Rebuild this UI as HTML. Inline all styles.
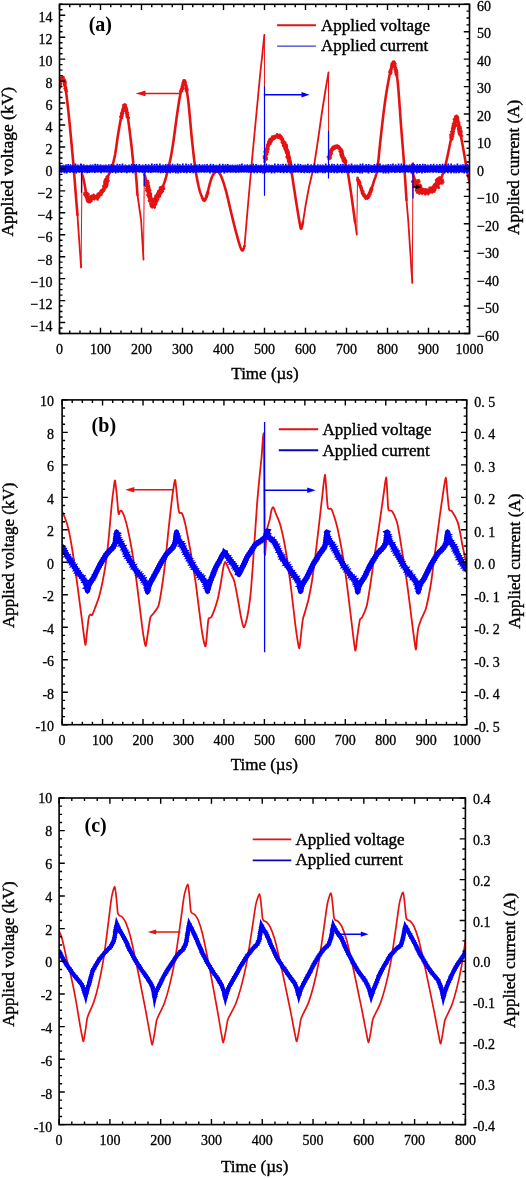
<!DOCTYPE html>
<html><head><meta charset="utf-8"><style>
html,body{margin:0;padding:0;background:#fff;}
svg{display:block;will-change:transform;}
</style></head><body>
<svg width="526" height="1179" viewBox="0 0 526 1179">
<rect width="526" height="1179" fill="#fff"/>
<defs><clipPath id="ca"><rect x="59.5" y="4.3" width="410.0" height="329.2"/></clipPath><clipPath id="cb"><rect x="62.1" y="399.9" width="404.6" height="324.8"/></clipPath><clipPath id="cc"><rect x="59.1" y="798.0" width="406.3" height="326.6"/></clipPath></defs><g clip-path="url(#ca)"><path d="M59.90 87.56L58.95 86.98L60.47 86.60L58.94 85.70L60.63 85.14L59.34 84.13L60.91 83.50L59.52 82.45L60.67 81.85L59.85 80.95L60.92 80.59L60.02 79.17L62.16 78.97L61.20 77.56L62.41 77.69L62.25 76.28L62.56 77.55L63.56 77.41L63.17 78.67L64.52 79.85L63.39 80.63L65.18 80.72L63.90 81.54L65.40 81.78L63.90 82.68L65.60 82.96L63.95 83.93L65.34 84.37L64.31 85.27L65.56 85.83L65.01 86.74L66.01 87.44L64.74 88.54L66.40 89.26L65.42 90.41L66.88 91.28L66.07 91.93L66.15 92.48L66.22 93.05L66.30 93.63L66.37 94.23L66.45 94.84L66.53 95.47L66.61 96.11L66.69 96.76L66.77 97.42L66.85 98.10L66.93 98.79L67.02 99.48L67.10 100.19L67.19 100.91L67.27 101.63L67.35 102.36L67.44 103.10L67.53 103.84L67.61 104.59L67.70 105.34L67.78 106.10L67.87 106.86L67.95 107.62L68.04 108.39L68.12 109.16L68.21 109.92L68.29 110.69L68.37 111.46L68.46 112.22L68.54 112.98L68.62 113.74L68.70 114.50L68.77 115.16L68.84 115.82L68.91 116.49L68.98 117.16L69.05 117.83L69.12 118.51L69.19 119.20L69.26 119.88L69.33 120.58L69.40 121.27L69.47 121.97L69.54 122.67L69.60 123.37L69.67 124.07L69.74 124.78L69.81 125.49L69.88 126.20L69.95 126.91L70.02 127.62L70.09 128.34L70.16 129.06L70.22 129.77L70.29 130.49L70.36 131.21L70.43 131.93L70.50 132.65L70.56 133.36L70.63 134.08L70.70 134.80L70.77 135.52L70.83 136.23L70.90 136.95L70.97 137.66L71.04 138.37L71.10 139.08L71.17 139.79L71.23 140.50L71.30 141.20L71.37 141.90L71.43 142.61L71.50 143.31L71.56 144.01L71.63 144.71L71.69 145.42L71.76 146.12L71.82 146.82L71.89 147.52L71.95 148.23L72.02 148.93L72.08 149.63L72.15 150.33L72.21 151.04L72.28 151.74L72.34 152.44L72.40 153.14L72.47 153.85L72.53 154.55L72.59 155.25L72.66 155.96L72.72 156.66L72.78 157.36L72.85 158.06L72.91 158.77L72.97 159.47L73.03 160.17L73.09 160.87L73.16 161.58L73.22 162.28L73.28 162.98L73.34 163.68L73.40 164.39L73.46 165.09L73.52 165.79L73.58 166.49L73.64 167.20L73.70 167.90L73.76 168.60L73.82 169.31L73.88 170.03L73.94 170.74L73.99 171.46L74.05 172.18L74.11 172.91L74.17 173.63L74.23 174.36L74.28 175.09L74.34 175.82L74.40 176.55L74.46 177.28L74.51 178.01L74.57 178.74L74.63 179.47L74.68 180.19L74.74 180.92L74.79 181.64L74.85 182.37L74.90 183.09L74.96 183.80L75.01 184.52L75.07 185.23L75.12 185.93L75.18 186.63L75.23 187.33L75.28 188.02L75.34 188.71L75.39 189.39L75.44 190.07L75.49 190.74L75.55 191.40L75.60 192.05L75.65 192.70L75.70 193.34L75.75 193.98L75.80 194.60L75.87 195.42L75.93 196.24L76.00 197.07L76.07 197.90L76.14 198.74L76.21 199.58L76.28 200.41L76.34 201.25L76.41 202.07L76.48 202.90L76.55 203.71L76.62 204.51L76.68 205.31L76.75 206.08L76.81 206.85L76.88 207.60L76.94 208.33L77.00 209.03L77.06 209.72L77.11 210.38L77.17 211.02L77.22 211.63L77.27 212.21L77.31 212.76L77.36 213.28L77.40 213.77L77.43 214.22L77.47 214.63L77.50 215.00" stroke="#e61212" stroke-width="2.6" fill="none" stroke-linejoin="round" stroke-linecap="round"/>
<path d="M82.00 174.00L82.12 174.38L82.26 174.82L82.43 175.34L82.63 175.93L82.84 176.61L83.07 177.37L83.30 178.24L83.55 179.21L83.80 180.30L83.91 180.84L84.03 181.44L84.16 182.08L84.28 182.76L84.41 183.48L84.55 184.23L84.68 185.00L84.82 185.79L84.96 186.59L85.10 187.40L85.24 188.21L85.38 189.01L85.53 189.81L85.67 190.59L85.81 191.34L85.95 192.07L84.57 193.08L87.17 193.22L84.27 194.52L88.52 194.11L85.42 195.99L88.64 196.28L86.30 197.91L88.46 198.30L86.69 199.73L89.61 199.52L87.36 201.17L90.30 200.00L88.31 202.13L89.17 200.74L89.94 202.22L88.32 200.09L91.32 201.04L89.39 199.03L92.12 199.19L90.01 197.08L93.01 197.63L91.54 195.75L93.14 197.25L93.76 194.92L93.50 197.10L96.08 195.83L94.45 199.24L95.99 196.32L97.58 199.51L96.14 196.46L98.47 197.61L96.98 195.38L99.49 196.38L97.79 193.82L99.94 195.03L99.10 193.07L101.48 194.79L100.14 192.38L102.02 193.12L100.59 190.98L102.91 191.85L101.42 190.11L103.84 190.79L102.82 189.35L104.64 189.48L103.49 187.99L105.34 187.97L103.29 186.15L106.86 186.64L104.27 185.00L107.22 185.24L104.51 183.65L107.43 183.71L104.32 182.05L107.56 182.11L104.73 180.55L108.52 180.74L105.39 179.13L107.88 179.04L106.67 177.97L108.29 177.78L106.67 176.61L108.14 176.08L108.46 175.28L108.78 174.58L109.09 173.93L109.40 173.31L109.70 172.68L110.00 172.00L110.29 171.35L110.56 170.78L110.82 170.22L111.08 169.63L111.36 168.94L111.66 168.08L112.00 167.00L112.15 166.49L112.31 165.96L112.47 165.40L112.64 164.83L112.81 164.23L112.98 163.60L113.16 162.96L113.35 162.28L113.53 161.58L113.71 160.86L113.90 160.11L114.09 159.33L114.27 158.52L114.46 157.69L114.64 156.82L114.82 155.93L115.00 155.00L115.11 154.42L115.21 153.81L115.32 153.18L115.43 152.54L115.54 151.87L115.64 151.19L115.75 150.49L115.86 149.78L115.96 149.06L116.07 148.32L116.18 147.58L116.29 146.83L116.39 146.07L116.50 145.31L116.61 144.55L116.71 143.78L116.82 143.01L116.93 142.25L117.04 141.49L117.14 140.73L117.25 139.98L117.36 139.23L117.46 138.50L117.57 137.77L117.68 137.06L117.79 136.36L117.89 135.67L118.00 135.00L118.13 134.23L118.25 133.45L118.38 132.66L118.51 131.88L118.65 131.09L118.78 130.30L118.91 129.52L119.04 128.74L119.18 127.97L119.31 127.20L119.44 126.44L119.58 125.69L119.71 124.95L119.84 124.22L119.96 123.51L120.09 122.81L120.21 122.14L120.33 121.48L120.45 120.84L120.57 120.22L120.68 119.63L120.79 119.06L120.90 118.51L121.94 118.19L120.34 116.70L122.30 116.14L121.26 115.05L122.57 114.64L121.16 113.60L122.97 113.51L121.48 112.48L122.84 112.30L122.22 111.51L123.63 111.22L122.20 110.02L124.10 109.53L122.80 108.28L124.49 107.71L123.41 106.56L124.92 106.20L123.34 104.98L124.82 105.27L124.58 104.45L124.30 105.38L125.72 104.91L124.71 105.95L125.76 106.35L125.16 107.36L126.71 107.92L125.71 109.14L127.22 109.82L126.04 111.10L127.06 111.47L126.38 112.21L127.84 112.47L126.09 113.44L127.63 113.72L126.89 114.50L128.11 114.92L126.59 115.89L127.93 116.38L127.02 117.32L128.78 117.86L128.03 118.89L128.18 119.85L128.34 120.88L128.50 122.00L128.57 122.53L128.65 123.08L128.73 123.66L128.81 124.26L128.90 124.89L128.98 125.53L129.07 126.20L129.16 126.88L129.25 127.58L129.34 128.29L129.43 129.01L129.53 129.75L129.62 130.50L129.71 131.26L129.81 132.02L129.90 132.79L130.00 133.56L130.10 134.34L130.19 135.12L130.29 135.90L130.38 136.67L130.47 137.45L130.57 138.22L130.66 138.98L130.75 139.74L130.84 140.49L130.93 141.23L131.02 141.96L131.10 142.67L131.19 143.37L131.27 144.06L131.35 144.72L131.43 145.37L131.50 146.00L131.60 146.84L131.69 147.68L131.79 148.52L131.88 149.36L131.97 150.19L132.05 151.02L132.14 151.84L132.22 152.66L132.30 153.46L132.38 154.26L132.45 155.04L132.53 155.81L132.61 156.56L132.68 157.30L132.76 158.02L132.83 158.73L132.90 159.41L132.98 160.07L133.05 160.71L133.12 161.33L133.20 161.92L133.27 162.48L133.35 163.02L133.42 163.52L133.50 164.00L133.77 165.21L134.04 165.76L134.31 165.95L134.58 166.07L134.85 166.42L135.12 167.30L135.40 169.00L135.45 169.44L135.51 169.93L135.57 170.47L135.63 171.04L135.69 171.66L135.75 172.31L135.82 172.99L135.88 173.70L135.94 174.44L136.01 175.21L136.07 176.00L136.14 176.80L136.21 177.62L136.27 178.46L136.34 179.31L136.41 180.16L136.47 181.02L136.54 181.88L136.60 182.74L136.66 183.60L136.73 184.45L136.79 185.30L136.85 186.13L136.91 186.95L136.97 187.75L137.02 188.53L137.08 189.28L137.13 190.02L137.18 190.72L137.23 191.39L137.28 192.03L137.32 192.63L137.36 193.20L137.40 193.72L137.44 194.19L137.47 194.62L137.50 195.00" stroke="#e61212" stroke-width="2.6" fill="none" stroke-linejoin="round" stroke-linecap="round"/>
<path d="M144.50 174.20L144.60 174.60L144.72 175.06L144.87 175.60L145.02 176.19L145.20 176.84L145.38 177.54L145.57 178.27L145.78 179.04L145.98 179.84L145.33 180.88L147.96 181.09L145.72 182.54L148.53 182.74L145.47 184.36L148.44 184.52L145.83 185.96L149.05 185.95L146.99 187.13L149.29 187.42L146.41 188.76L149.58 188.94L146.31 190.36L150.20 190.44L147.36 191.78L149.72 192.15L148.03 193.28L150.89 193.54L147.47 194.98L150.88 195.08L148.15 196.39L151.01 196.52L148.78 197.71L151.34 197.79L149.19 198.96L151.76 198.88L148.91 200.77L152.39 200.90L150.05 202.63L152.09 203.02L150.51 204.51L153.48 204.16L150.93 206.15L153.87 204.71L152.18 207.32L152.89 204.94L154.76 207.56L152.87 205.21L154.80 205.62L152.75 203.96L156.01 204.37L153.51 202.56L156.50 202.60L154.08 200.82L157.24 200.94L154.03 198.87L158.00 199.58L155.02 197.48L158.08 198.16L155.42 195.77L158.72 197.03L156.59 194.86L159.97 196.33L157.23 193.74L160.15 194.68L157.89 192.46L161.31 193.22L158.31 191.06L161.88 192.17L159.38 190.23L162.93 191.25L159.96 189.05L162.74 189.62L159.99 187.53L164.12 188.66L161.66 186.73L163.52 186.74L163.11 185.74L163.41 185.04L163.69 184.33L163.97 183.62L164.24 182.91L164.50 182.20L164.72 181.56L164.93 180.91L165.14 180.25L165.35 179.57L165.55 178.89L165.74 178.20L165.93 177.50L166.12 176.80L166.31 176.09L166.49 175.38L166.67 174.67L166.85 173.96L167.03 173.24L167.20 172.53L167.38 171.81L167.55 171.11L167.73 170.40L167.90 169.70L168.07 169.01L168.24 168.33L168.41 167.66L168.58 166.99L168.74 166.33L168.91 165.67L169.07 165.02L169.23 164.35L169.39 163.69L169.55 163.01L169.70 162.33L169.86 161.64L170.02 160.93L170.17 160.20L170.33 159.46L170.48 158.70L170.64 157.91L170.80 157.10L170.92 156.48L171.03 155.86L171.15 155.23L171.27 154.60L171.38 153.97L171.49 153.33L171.61 152.68L171.72 152.03L171.83 151.36L171.94 150.69L172.06 150.01L172.17 149.32L172.28 148.62L172.40 147.91L172.51 147.19L172.63 146.45L172.74 145.70L172.86 144.94L172.98 144.16L173.10 143.36L173.22 142.55L173.35 141.72L173.47 140.87L173.60 140.00L173.69 139.41L173.77 138.80L173.86 138.17L173.95 137.54L174.04 136.88L174.14 136.22L174.23 135.55L174.32 134.86L174.42 134.16L174.51 133.46L174.61 132.75L174.70 132.03L174.80 131.30L174.90 130.57L174.99 129.84L175.09 129.10L175.19 128.36L175.29 127.62L175.39 126.88L175.48 126.13L175.58 125.39L175.68 124.65L175.78 123.91L175.87 123.18L175.97 122.45L176.07 121.73L176.16 121.01L176.26 120.30L176.35 119.60L176.45 118.91L176.54 118.23L176.64 117.56L176.73 116.90L176.82 116.25L176.91 115.62L177.00 115.00L177.12 114.19L177.24 113.38L177.35 112.57L177.47 111.76L177.59 110.97L177.71 110.17L177.82 109.39L177.94 108.61L178.06 107.83L178.17 107.07L178.29 106.31L178.40 105.57L178.51 104.83L178.62 104.11L178.74 103.40L178.85 102.69L178.96 102.01L179.07 101.33L179.17 100.67L179.28 100.03L179.39 99.40L179.49 98.79L179.60 98.19L179.70 97.62L179.80 97.06L179.90 96.52L180.00 96.00L180.22 94.92L180.43 93.96L180.63 93.10L180.83 92.33L180.16 91.39L182.10 91.27L180.86 90.23L182.04 89.98L181.03 89.04L182.86 88.99L181.69 88.00L182.89 87.66L181.76 86.50L183.15 85.87L182.32 84.72L183.48 83.98L182.65 82.87L183.90 82.29L183.29 81.39L184.35 81.17L183.70 80.34L184.20 80.88L184.67 80.33L184.03 81.15L185.22 81.12L184.13 82.07L185.66 82.36L184.81 83.37L185.87 84.02L185.13 85.12L186.62 85.83L185.57 87.06L186.81 87.88L185.45 88.69L187.27 88.88L185.89 89.68L187.48 89.90L185.96 90.72L187.25 91.01L186.54 91.70L187.00 92.18L187.10 92.75L187.20 93.35L187.31 93.97L187.41 94.64L187.52 95.34L187.63 96.09L187.75 96.89L187.86 97.75L187.98 98.66L188.11 99.64L188.23 100.68L188.36 101.80L188.50 103.00L188.56 103.50L188.61 104.02L188.67 104.55L188.73 105.10L188.78 105.67L188.84 106.25L188.90 106.85L188.96 107.47L189.03 108.09L189.09 108.73L189.15 109.38L189.21 110.05L189.28 110.72L189.34 111.41L189.41 112.10L189.47 112.81L189.54 113.52L189.60 114.24L189.67 114.97L189.74 115.71L189.80 116.45L189.87 117.20L189.94 117.95L190.01 118.71L190.08 119.47L190.15 120.24L190.22 121.01L190.29 121.78L190.35 122.55L190.42 123.33L190.49 124.10L190.56 124.87L190.63 125.65L190.70 126.42L190.77 127.19L190.84 127.96L190.91 128.72L190.98 129.48L191.05 130.23L191.12 130.98L191.19 131.73L191.26 132.47L191.33 133.20L191.40 133.92L191.47 134.64L191.53 135.34L191.60 136.04L191.67 136.73L191.74 137.41L191.80 138.07L191.87 138.73L191.93 139.37L192.00 140.00L192.08 140.80L192.17 141.60L192.25 142.40L192.33 143.19L192.42 143.98L192.50 144.76L192.58 145.54L192.67 146.32L192.75 147.09L192.83 147.86L192.91 148.62L193.00 149.38L193.08 150.13L193.16 150.88L193.24 151.62L193.32 152.36L193.41 153.10L193.49 153.82L193.57 154.55L193.65 155.27L193.73 155.98L193.82 156.69L193.90 157.39L193.98 158.09L194.06 158.78L194.15 159.47L194.23 160.15L194.31 160.82L194.39 161.49L194.48 162.15L194.56 162.80L194.64 163.45L194.73 164.10L194.81 164.73L194.89 165.36L194.98 165.99L195.06 166.60L195.15 167.21L195.23 167.82L195.31 168.41L195.40 169.00L195.53 169.88L195.66 170.75L195.79 171.60L195.93 172.45L196.06 173.27L196.20 174.09L196.33 174.89L196.47 175.67L196.61 176.44L196.74 177.20L196.88 177.95L197.02 178.68L197.16 179.40L197.29 180.10L197.43 180.79L197.57 181.47L197.70 182.13L197.84 182.78L197.97 183.41L198.10 184.03L198.24 184.64L198.37 185.24L198.50 185.82L198.63 186.38L198.75 186.94L198.88 187.47L199.00 188.00L199.25 189.04L199.50 189.99L199.74 190.88L199.98 191.69L200.22 192.45L200.45 193.15L200.68 193.80L200.91 194.41L201.13 194.98L201.35 195.52L201.57 196.03L201.79 196.52L202.23 196.90L202.07 198.39L203.33 198.97L203.12 200.22L204.24 199.74L204.63 200.85L204.55 199.82L205.26 199.84L205.15 199.10L205.97 198.72L205.60 197.69L206.79 197.16L206.13 195.86L207.45 195.14L206.60 194.30L207.76 193.99L207.13 193.14L208.19 192.68L207.56 191.77L208.02 191.10L208.20 190.34L208.38 189.56L208.56 188.78L208.74 187.99L208.92 187.21L209.10 186.44L209.28 185.69L209.46 184.96L209.64 184.27L209.82 183.61L210.00 183.00L210.25 182.18L210.49 181.38L210.73 180.61L210.96 179.87L211.20 179.16L211.44 178.47L211.68 177.81L211.93 177.19L212.18 176.59L212.44 176.03L212.71 175.50L213.00 175.00L213.52 174.19L214.07 173.44L214.64 172.77L215.23 172.20L215.83 171.79L216.42 171.54L217.00 171.50L217.49 171.61L217.98 171.82L218.46 172.14L218.94 172.59L219.43 173.19L219.93 173.95L220.45 174.88L221.00 176.00L221.21 176.46L221.42 176.95L221.63 177.46L221.85 178.01L222.07 178.58L222.29 179.17L222.52 179.79L222.74 180.43L222.97 181.09L223.21 181.77L223.44 182.47L223.67 183.18L223.91 183.92L224.14 184.66L224.37 185.42L224.61 186.19L224.84 186.97L225.08 187.77L225.31 188.57L225.54 189.37L225.77 190.18L226.00 191.00L226.17 191.61L226.33 192.23L226.50 192.86L226.67 193.51L226.83 194.16L227.00 194.83L227.17 195.51L227.33 196.20L227.50 196.89L227.67 197.59L227.83 198.30L228.00 199.02L228.17 199.74L228.33 200.46L228.50 201.19L228.67 201.92L228.83 202.65L229.00 203.38L229.17 204.12L229.33 204.85L229.50 205.58L229.67 206.32L229.83 207.04L230.00 207.77L230.17 208.49L230.33 209.20L230.50 209.91L230.67 210.62L230.83 211.31L231.00 212.00L231.17 212.71L231.35 213.42L231.52 214.14L231.70 214.86L231.87 215.58L232.05 216.30L232.23 217.03L232.41 217.75L232.58 218.48L232.76 219.20L232.94 219.93L233.12 220.65L233.30 221.37L233.47 222.08L233.65 222.79L233.83 223.50L234.00 224.20L234.18 224.90L234.35 225.59L234.52 226.27L234.69 226.94L234.86 227.61L235.03 228.27L235.20 228.92L235.36 229.56L235.52 230.19L235.69 230.80L235.84 231.41L236.00 232.00L236.22 232.85L236.45 233.69L236.67 234.52L236.89 235.34L237.11 236.14L237.32 236.94L237.53 237.72L237.74 238.49L237.95 239.24L238.16 239.97L238.36 240.68L238.56 241.37L238.75 242.04L238.94 242.69L239.13 243.31L239.31 243.90L239.49 244.47L239.67 245.01L239.84 245.52L240.00 246.00L240.44 247.22L240.84 248.24L241.20 249.07L241.54 249.70L241.87 250.15L242.18 250.41L242.50 250.50L242.83 250.29L243.17 249.74L243.50 248.97L243.81 248.09L244.09 247.22L244.32 246.49L244.50 246.00" stroke="#e61212" stroke-width="2.6" fill="none" stroke-linejoin="round" stroke-linecap="round"/>
<path d="M264.60 162.00L264.66 161.60L264.73 161.09L264.82 160.50L264.91 159.83L266.77 159.35L264.01 158.18L266.66 157.75L263.90 156.51L266.28 156.04L264.98 155.02L267.02 154.59L265.19 153.52L267.00 153.21L264.55 151.85L267.94 151.83L265.86 150.55L267.33 150.17L266.11 149.09L268.61 149.09L266.76 147.79L268.31 147.57L267.12 146.42L268.65 146.25L267.17 144.83L269.29 144.84L267.92 143.39L270.54 143.72L268.25 141.76L270.82 142.25L268.94 140.32L271.66 141.24L269.76 139.02L272.14 139.98L271.40 138.11L273.42 139.39L272.28 136.52L274.49 138.74L273.90 136.26L275.36 137.78L275.46 135.82L276.84 137.11L277.19 134.38L277.94 137.79L279.63 134.86L278.85 137.70L280.88 135.91L279.87 138.13L281.85 137.21L280.93 139.02L282.89 138.69L281.76 140.51L283.59 140.69L281.72 142.24L284.10 141.75L282.32 143.21L285.31 142.61L283.64 144.01L285.57 143.97L283.07 145.68L286.68 145.12L284.07 146.84L286.93 146.67L284.39 148.35L286.86 148.40L285.07 149.84L287.74 149.92L285.76 151.43L288.51 151.57L286.11 152.89L288.77 152.81L286.91 153.99L288.74 154.18L287.27 155.27L289.34 155.44L286.61 156.86L289.56 156.85L287.33 158.15L290.00 158.24L288.08 159.47L290.06 159.76L288.00 161.02L290.72 161.17L288.58 162.44L290.86 162.72L288.97 163.92L290.07 164.47L290.23 165.22L290.39 165.98L290.55 166.74L290.70 167.49L290.85 168.25L291.00 169.00L291.13 169.67L291.25 170.34L291.38 171.02L291.50 171.71L291.62 172.40L291.73 173.09L291.85 173.78L291.96 174.48L292.07 175.19L292.18 175.89L292.29 176.60L292.40 177.31L292.51 178.02L292.62 178.73L292.72 179.45L292.83 180.16L292.93 180.88L293.04 181.59L293.14 182.31L293.25 183.02L293.35 183.74L293.46 184.45L293.56 185.17L293.67 185.88L293.78 186.59L293.89 187.29L294.00 188.00L294.11 188.71L294.22 189.42L294.34 190.13L294.45 190.85L294.56 191.57L294.68 192.30L294.79 193.03L294.90 193.75L295.02 194.48L295.13 195.21L295.25 195.94L295.36 196.66L295.47 197.39L295.59 198.11L295.70 198.83L295.81 199.55L295.93 200.26L296.04 200.96L296.15 201.66L296.26 202.36L296.37 203.05L296.48 203.73L296.58 204.40L296.69 205.06L296.79 205.72L296.90 206.36L297.00 207.00L297.13 207.81L297.26 208.62L297.39 209.42L297.52 210.23L297.65 211.02L297.78 211.82L297.90 212.60L298.03 213.37L298.15 214.14L298.28 214.89L298.40 215.63L298.52 216.36L298.64 217.06L298.75 217.76L298.87 218.43L298.98 219.08L299.09 219.71L299.19 220.32L299.30 220.91L299.40 221.47L299.50 222.00L299.72 223.19L299.91 224.32L300.09 225.38L300.26 226.33L300.42 227.16L300.58 227.84L300.74 228.36L300.91 228.69L301.10 228.80L301.29 228.64L301.49 228.20L301.71 227.55L301.93 226.73L302.15 225.82L302.36 224.88L302.56 223.97L302.74 223.14L302.89 222.47L303.00 222.00" stroke="#e61212" stroke-width="2.6" fill="none" stroke-linejoin="round" stroke-linecap="round"/>
<path d="M328.70 159.00L328.83 158.57L330.49 158.45L327.80 156.92L330.67 156.96L328.96 155.57L330.73 155.21L328.97 153.73L331.76 153.82L330.27 152.44L331.61 152.28L330.07 150.52L332.34 150.73L331.21 149.06L333.37 149.53L332.18 147.70L334.63 148.91L333.28 146.63L335.22 147.74L335.27 145.81L336.26 147.68L337.23 145.44L337.27 147.66L338.70 146.19L338.09 148.29L340.00 147.63L339.42 149.36L341.24 148.95L339.95 150.21L341.79 150.07L339.68 151.60L342.52 151.25L340.72 152.65L342.57 152.79L340.49 154.31L343.01 154.31L340.93 155.88L343.38 155.95L341.66 157.47L343.69 157.38L342.25 158.55L344.92 158.23L342.82 159.68L345.18 159.49L342.89 161.04L346.03 160.59L344.12 162.02L346.00 162.08L345.24 163.10L345.47 163.79L345.70 164.48L345.93 165.19L346.16 165.92L346.38 166.66L346.59 167.43L346.80 168.20L347.00 169.00L347.14 169.61L347.29 170.23L347.42 170.86L347.56 171.50L347.69 172.15L347.82 172.80L347.95 173.47L348.07 174.15L348.20 174.83L348.32 175.53L348.44 176.23L348.56 176.94L348.68 177.65L348.80 178.38L348.92 179.11L349.04 179.85L349.16 180.60L349.27 181.35L349.39 182.11L349.51 182.88L349.63 183.65L349.75 184.43L349.88 185.21L350.00 186.00L350.10 186.64L350.20 187.30L350.30 187.97L350.41 188.65L350.51 189.34L350.62 190.04L350.72 190.75L350.83 191.47L350.93 192.19L351.04 192.93L351.14 193.66L351.25 194.40L351.35 195.14L351.46 195.88L351.56 196.62L351.67 197.37L351.77 198.10L351.87 198.84L351.97 199.57L352.07 200.30L352.17 201.01L352.27 201.73L352.37 202.43L352.46 203.12L352.56 203.80L352.65 204.47L352.74 205.12L352.83 205.77L352.92 206.39L353.00 207.00L353.12 207.86L353.24 208.72L353.36 209.59L353.47 210.45L353.59 211.31L353.70 212.16L353.81 213.00L353.92 213.83L354.03 214.64L354.14 215.43L354.24 216.19L354.34 216.94L354.43 217.65L354.52 218.33L354.60 218.98L354.68 219.59L354.76 220.17L354.83 220.70L354.89 221.18L354.95 221.62L355.00 222.00" stroke="#e61212" stroke-width="2.6" fill="none" stroke-linejoin="round" stroke-linecap="round"/>
<path d="M357.50 177.80L357.65 178.22L357.83 178.77L357.19 179.70L358.81 179.95L357.76 181.18L359.76 181.40L358.64 182.72L360.22 183.12L359.22 184.39L360.39 184.86L359.72 185.83L361.25 186.05L360.32 187.14L361.66 187.47L360.67 188.61L361.83 189.00L361.12 190.04L362.47 190.32L361.62 191.42L363.30 191.47L361.87 192.83L363.41 192.80L362.54 194.29L364.51 194.36L363.47 196.01L365.51 195.85L364.71 197.39L366.03 197.18L365.71 198.71L366.63 197.00L367.33 198.57L367.20 197.33L368.55 197.70L367.56 196.12L369.50 196.25L368.22 194.55L370.44 194.43L369.25 192.68L370.74 192.73L369.80 191.73L371.25 191.64L370.08 190.52L371.78 190.42L370.48 189.23L372.17 189.05L371.10 187.92L372.01 187.44L372.24 186.72L372.47 185.99L372.70 185.26L372.92 184.53L373.15 183.80L373.37 183.08L373.58 182.37L373.79 181.68L374.00 181.00L374.21 180.33L374.42 179.72L374.62 179.16L374.82 178.64L375.01 178.14L375.20 177.65L375.39 177.16L375.58 176.64L375.76 176.10L375.95 175.51L376.13 174.86L376.32 174.14L376.51 173.34L376.70 172.43L376.90 171.42L377.10 170.28L377.30 169.00L377.37 168.51L377.45 168.00L377.52 167.48L377.59 166.93L377.67 166.37L377.74 165.80L377.82 165.20L377.89 164.59L377.96 163.97L378.04 163.34L378.11 162.69L378.19 162.02L378.27 161.35L378.34 160.66L378.42 159.97L378.49 159.26L378.57 158.54L378.65 157.82L378.72 157.08L378.80 156.34L378.87 155.59L378.95 154.84L379.03 154.08L379.11 153.31L379.18 152.54L379.26 151.77L379.34 150.99L379.42 150.21L379.49 149.43L379.57 148.64L379.65 147.86L379.73 147.07L379.81 146.29L379.89 145.51L379.97 144.72L380.04 143.95L380.12 143.17L380.20 142.40L380.28 141.63L380.36 140.86L380.44 140.10L380.52 139.35L380.60 138.61L380.68 137.87L380.76 137.14L380.84 136.42L380.92 135.70L381.00 135.00L381.08 134.29L381.16 133.57L381.25 132.85L381.33 132.13L381.41 131.40L381.50 130.67L381.58 129.95L381.66 129.22L381.75 128.48L381.83 127.75L381.92 127.02L382.00 126.29L382.08 125.55L382.17 124.82L382.25 124.08L382.34 123.35L382.42 122.61L382.51 121.88L382.60 121.15L382.68 120.42L382.77 119.69L382.85 118.96L382.94 118.24L383.02 117.51L383.11 116.79L383.20 116.07L383.28 115.36L383.37 114.65L383.45 113.94L383.54 113.23L383.63 112.53L383.71 111.83L383.80 111.14L383.89 110.45L383.97 109.76L384.06 109.08L384.14 108.41L384.23 107.74L384.32 107.08L384.40 106.42L384.49 105.77L384.57 105.12L384.66 104.48L384.74 103.85L384.83 103.23L384.91 102.61L385.00 102.00L385.12 101.16L385.24 100.33L385.36 99.50L385.48 98.68L385.60 97.86L385.73 97.05L385.85 96.24L385.97 95.44L386.10 94.64L386.22 93.85L386.35 93.07L386.47 92.30L386.60 91.54L386.72 90.78L386.85 90.03L386.97 89.29L387.09 88.56L387.22 87.84L387.34 87.13L387.46 86.44L387.58 85.75L387.70 85.07L387.82 84.41L387.93 83.76L388.05 83.12L388.16 82.49L388.27 81.88L388.38 81.28L388.49 80.70L388.60 80.13L388.70 79.57L388.80 79.03L388.90 78.51L389.00 78.00L389.23 76.85L389.44 75.80L389.64 74.86L389.84 74.01L390.97 73.47L389.38 72.32L391.29 72.14L389.78 71.07L391.08 70.83L390.30 70.00L391.51 69.78L390.72 68.97L391.71 68.67L391.14 67.90L392.36 67.23L391.15 65.91L393.08 65.36L391.47 64.01L393.31 63.62L392.55 62.63L393.45 62.40L393.05 61.63L393.38 62.70L394.09 61.58L393.20 62.62L394.69 62.47L393.64 63.50L395.39 63.78L393.99 65.02L395.29 65.70L394.43 66.93L395.92 67.76L394.63 69.19L396.18 69.40L395.34 70.08L396.82 70.29L395.41 71.08L396.44 71.38L395.35 72.11L397.22 72.27L395.76 73.09L396.90 73.43L395.70 74.22L397.22 74.56L396.33 75.34L397.23 75.86L397.00 76.59L397.11 77.31L397.22 78.08L397.32 78.89L397.43 79.76L397.54 80.68L397.66 81.66L397.77 82.71L397.88 83.82L398.00 85.00L398.05 85.50L398.10 86.01L398.14 86.54L398.19 87.08L398.24 87.64L398.29 88.20L398.34 88.78L398.39 89.38L398.44 89.98L398.49 90.60L398.54 91.22L398.59 91.86L398.64 92.51L398.69 93.16L398.74 93.83L398.80 94.51L398.85 95.19L398.90 95.88L398.95 96.58L399.00 97.29L399.06 98.00L399.11 98.72L399.16 99.45L399.22 100.18L399.27 100.92L399.32 101.67L399.38 102.41L399.43 103.17L399.48 103.92L399.54 104.68L399.59 105.44L399.64 106.21L399.70 106.98L399.75 107.74L399.81 108.51L399.86 109.29L399.92 110.06L399.97 110.83L400.02 111.60L400.08 112.37L400.13 113.14L400.19 113.91L400.24 114.68L400.30 115.44L400.35 116.20L400.41 116.96L400.46 117.72L400.51 118.47L400.57 119.22L400.62 119.96L400.68 120.70L400.73 121.43L400.79 122.16L400.84 122.88L400.89 123.59L400.95 124.30L401.00 125.00L401.05 125.71L401.11 126.42L401.16 127.13L401.22 127.84L401.28 128.55L401.33 129.26L401.39 129.97L401.44 130.68L401.50 131.39L401.56 132.11L401.61 132.82L401.67 133.53L401.73 134.25L401.78 134.96L401.84 135.67L401.90 136.38L401.96 137.10L402.01 137.81L402.07 138.52L402.13 139.23L402.19 139.95L402.24 140.66L402.30 141.37L402.36 142.08L402.42 142.79L402.47 143.50L402.53 144.21L402.59 144.92L402.64 145.63L402.70 146.33L402.76 147.04L402.82 147.75L402.87 148.45L402.93 149.15L402.98 149.86L403.04 150.56L403.10 151.26L403.15 151.96L403.21 152.66L403.26 153.35L403.32 154.05L403.37 154.74L403.43 155.44L403.48 156.13L403.53 156.82L403.59 157.51L403.64 158.20L403.69 158.88L403.75 159.56L403.80 160.25L403.85 160.93L403.90 161.61L403.95 162.28L404.00 162.96L404.05 163.63L404.10 164.30L404.15 165.04L404.21 165.79L404.26 166.55L404.32 167.32L404.37 168.10L404.43 168.88L404.48 169.67L404.54 170.47L404.60 171.27L404.65 172.08L404.71 172.89L404.76 173.70L404.82 174.52L404.87 175.34L404.93 176.15L404.99 176.97L405.04 177.79L405.10 178.60L405.15 179.42L405.20 180.23L405.26 181.04L405.31 181.84L405.36 182.64L405.42 183.43L405.47 184.22L405.52 184.99L405.57 185.77L405.62 186.53L405.67 187.28L405.72 188.02L405.77 188.75L405.81 189.47L405.86 190.18L405.90 190.88L405.95 191.56L405.99 192.23L406.03 192.88L406.07 193.51L406.12 194.13L406.15 194.73L406.19 195.32L406.23 195.88L406.26 196.43L406.30 196.95L406.33 197.46L406.36 197.94L406.39 198.40L406.42 198.84L406.45 199.25L406.48 199.64L406.50 200.00" stroke="#e61212" stroke-width="2.6" fill="none" stroke-linejoin="round" stroke-linecap="round"/>
<path d="M413.00 173.90L413.13 174.30L413.29 174.81L413.48 175.40L413.70 176.07L413.93 176.80L414.17 177.57L414.43 178.36L414.69 179.16L414.95 179.95L412.35 181.69L418.80 180.26L414.59 182.50L419.40 181.62L413.13 184.77L417.75 183.95L413.74 186.31L420.16 184.70L415.86 187.22L421.08 185.81L416.03 188.80L420.31 187.42L416.01 190.45L421.50 188.21L417.15 192.56L421.26 189.63L419.42 193.57L421.56 190.24L421.98 193.64L422.05 189.26L423.80 192.67L423.71 189.14L425.37 194.29L425.80 189.36L426.54 193.29L427.50 189.80L428.34 194.15L428.82 189.60L430.18 192.44L429.65 187.68L432.31 192.47L430.59 187.80L434.36 191.67L431.07 187.56L435.21 189.96L433.01 186.61L435.69 188.20L433.69 185.63L436.70 187.48L434.36 184.43L438.95 187.56L435.54 183.53L438.48 185.01L436.40 182.28L439.53 183.70L436.09 180.22L442.36 183.48L436.97 179.17L443.25 182.01L438.07 178.38L442.77 180.07L439.05 177.43L441.30 177.75L441.59 177.10L441.88 176.43L442.17 175.75L442.44 175.05L442.72 174.32L442.99 173.58L443.26 172.81L443.53 172.02L443.80 171.20L443.99 170.61L444.17 170.01L444.35 169.39L444.52 168.77L444.70 168.13L444.87 167.48L445.04 166.82L445.21 166.14L445.38 165.46L445.54 164.77L445.71 164.08L445.87 163.37L446.04 162.66L446.20 161.94L446.37 161.21L446.53 160.48L446.70 159.74L446.86 159.00L447.03 158.25L447.20 157.50L447.35 156.84L447.49 156.17L447.64 155.50L447.79 154.82L447.93 154.13L448.08 153.43L448.23 152.73L448.37 152.02L448.52 151.31L448.66 150.59L448.81 149.87L448.95 149.15L449.10 148.42L449.25 147.69L449.40 146.96L449.54 146.23L449.69 145.50L449.84 144.76L449.99 144.03L450.14 143.29L450.29 142.56L450.45 141.83L450.60 141.10L450.75 140.39L450.90 139.67L452.24 139.18L450.49 138.02L452.42 137.64L450.64 136.46L452.91 136.13L450.45 134.79L453.23 134.57L451.58 133.40L453.49 133.00L451.26 131.72L453.75 131.45L452.32 130.36L453.59 129.86L452.12 128.78L454.58 128.57L452.47 127.39L454.89 127.22L452.70 126.06L455.28 125.99L453.34 124.93L455.55 124.85L453.02 123.70L455.17 122.93L454.10 121.50L455.83 120.73L453.92 119.30L456.60 118.98L455.09 117.81L457.03 117.79L455.27 116.52L457.07 117.80L456.54 115.82L456.14 117.12L457.52 116.63L456.01 117.79L458.05 117.72L456.27 118.93L458.08 119.28L456.92 120.42L458.40 121.04L456.53 122.41L459.28 122.84L457.70 124.20L459.35 124.86L457.70 125.81L459.43 126.05L458.44 126.90L460.42 127.15L458.30 128.27L460.74 128.48L458.23 129.70L460.60 129.96L458.60 131.10L461.41 131.31L458.82 132.57L461.40 132.84L459.17 134.05L461.13 134.45L460.09 135.42L462.02 135.83L461.05 136.79L461.19 137.53L461.33 138.26L461.47 138.99L461.60 139.70L461.73 140.41L461.86 141.11L462.00 141.81L462.13 142.52L462.25 143.22L462.38 143.92L462.51 144.62L462.64 145.33L462.77 146.03L462.89 146.73L463.02 147.44L463.15 148.15L463.27 148.86L463.40 149.58L463.53 150.30L463.65 151.02L463.78 151.74L463.91 152.48L464.04 153.21L464.17 153.95L464.30 154.70L464.42 155.39L464.54 156.10L464.66 156.82L464.79 157.55L464.91 158.28L465.03 159.03L465.16 159.78L465.28 160.53L465.41 161.29L465.53 162.05L465.66 162.80L465.78 163.56L465.91 164.31L466.03 165.05L466.15 165.79L466.27 166.51L466.40 167.23L466.52 167.93L466.64 168.62L466.75 169.29L466.87 169.95L466.99 170.58L467.10 171.20L467.27 172.07L467.44 172.94L467.61 173.80L467.78 174.66L467.96 175.49L468.13 176.31L468.31 177.11L468.48 177.88L468.64 178.62L468.79 179.32L468.94 179.98L469.08 180.59L469.20 181.15L469.32 181.66L469.42 182.11L469.50 182.50" stroke="#e61212" stroke-width="2.6" fill="none" stroke-linejoin="round" stroke-linecap="round"/>
<path d="M77.50 215.00L78.10 224.80L81.10 267.50" stroke="#e61212" stroke-width="1.8" fill="none" stroke-linejoin="round" stroke-linecap="round"/>
<path d="M137.50 195.00L141.10 220.00L143.50 259.60" stroke="#e61212" stroke-width="1.8" fill="none" stroke-linejoin="round" stroke-linecap="round"/>
<path d="M244.50 246.00L248.00 205.00L252.00 160.00L256.00 118.00L260.00 76.00L264.40 34.80" stroke="#e61212" stroke-width="1.8" fill="none" stroke-linejoin="round" stroke-linecap="round"/>
<path d="M303.00 222.00L306.00 203.00L309.00 187.00L314.20 165.00L318.00 140.00L322.00 112.00L325.50 90.00L328.50 72.50" stroke="#e61212" stroke-width="1.8" fill="none" stroke-linejoin="round" stroke-linecap="round"/>
<path d="M355.00 222.00L356.80 234.50" stroke="#e61212" stroke-width="1.8" fill="none" stroke-linejoin="round" stroke-linecap="round"/>
<path d="M406.50 200.00L408.20 220.00L412.30 282.90" stroke="#e61212" stroke-width="1.8" fill="none" stroke-linejoin="round" stroke-linecap="round"/>
<path d="M81.10 267.50L82.00 174.00" stroke="#e61212" stroke-width="1.0" fill="none" stroke-linejoin="round" stroke-linecap="round"/>
<path d="M143.50 259.60L144.30 174.00" stroke="#e61212" stroke-width="1.0" fill="none" stroke-linejoin="round" stroke-linecap="round"/>
<path d="M264.40 34.80L264.60 162.00" stroke="#e61212" stroke-width="1.0" fill="none" stroke-linejoin="round" stroke-linecap="round"/>
<path d="M328.50 72.50L328.70 159.00" stroke="#e61212" stroke-width="1.0" fill="none" stroke-linejoin="round" stroke-linecap="round"/>
<path d="M356.80 234.50L357.50 177.80" stroke="#e61212" stroke-width="1.0" fill="none" stroke-linejoin="round" stroke-linecap="round"/>
<path d="M412.30 282.90L413.00 162.30L413.50 173.90" stroke="#e61212" stroke-width="1.0" fill="none" stroke-linejoin="round" stroke-linecap="round"/>
<rect x="59.5" y="165.30" width="410.00" height="7.00" fill="#0000f8"/>
<path d="M60.1 165.6v-1.0M63.1 165.6v-0.9M66.0 165.6v-1.3M68.2 165.6v-1.5M70.5 165.6v-1.4M72.8 165.6v-0.9M75.5 165.6v-2.0M77.8 165.6v-1.1M80.8 165.6v-2.1M83.7 165.6v-1.4M87.0 165.6v-0.9M90.3 165.6v-1.2M92.6 165.6v-1.0M95.2 165.6v-1.9M97.6 165.6v-1.6M100.6 165.6v-1.3M103.5 165.6v-0.9M105.7 165.6v-1.1M108.7 165.6v-1.4M111.3 165.6v-1.6M114.1 165.6v-1.2M117.2 165.6v-1.8M119.7 165.6v-1.6M122.5 165.6v-2.0M125.6 165.6v-1.2M129.0 165.6v-1.0M131.7 165.6v-1.9M134.1 165.6v-1.5M136.3 165.6v-1.7M139.4 165.6v-1.6M142.7 165.6v-1.2M145.7 165.6v-1.6M148.6 165.6v-1.4M151.8 165.6v-2.1M154.6 165.6v-1.7M156.9 165.6v-1.8M159.9 165.6v-2.2M163.0 165.6v-1.2M165.7 165.6v-1.7M167.9 165.6v-1.4M170.3 165.6v-1.0M172.6 165.6v-1.9M175.0 165.6v-1.1M177.6 165.6v-2.0M179.9 165.6v-1.4M182.8 165.6v-2.0M186.0 165.6v-2.0M188.5 165.6v-1.4M191.1 165.6v-2.0M194.5 165.6v-1.0M196.9 165.6v-1.1M199.4 165.6v-1.5M202.3 165.6v-1.2M204.5 165.6v-1.4M207.1 165.6v-1.6M210.5 165.6v-1.8M213.3 165.6v-1.7M216.3 165.6v-0.9M219.6 165.6v-1.9M222.8 165.6v-1.9M225.5 165.6v-1.4M227.8 165.6v-1.7M230.1 165.6v-0.9M232.5 165.6v-1.0M235.2 165.6v-0.9M237.4 165.6v-1.0M239.7 165.6v-1.3M241.9 165.6v-2.0M244.8 165.6v-1.0M247.3 165.6v-1.3M250.0 165.6v-1.0M253.2 165.6v-2.2M256.0 165.6v-1.5M258.3 165.6v-0.9M260.9 165.6v-1.2M264.1 165.6v-1.0M266.3 165.6v-2.1M269.1 165.6v-1.0M272.0 165.6v-0.8M274.8 165.6v-2.2M278.1 165.6v-1.8M280.6 165.6v-1.3M283.0 165.6v-1.9M285.8 165.6v-1.9M288.4 165.6v-1.1M291.6 165.6v-2.2M294.8 165.6v-1.9M298.0 165.6v-1.8M300.5 165.6v-1.5M303.1 165.6v-0.8M305.3 165.6v-1.2M307.8 165.6v-1.8M311.2 165.6v-1.4M314.5 165.6v-2.2M317.8 165.6v-1.3M320.3 165.6v-1.1M322.7 165.6v-1.1M325.7 165.6v-2.1M328.9 165.6v-1.5M331.9 165.6v-1.9M334.2 165.6v-1.7M337.5 165.6v-1.9M340.6 165.6v-1.5M343.0 165.6v-1.9M345.6 165.6v-1.9M349.0 165.6v-1.4M351.6 165.6v-2.1M354.7 165.6v-1.0M357.1 165.6v-1.0M360.3 165.6v-1.9M362.7 165.6v-2.0M366.1 165.6v-1.7M368.7 165.6v-1.6M371.1 165.6v-0.8M374.4 165.6v-1.7M377.3 165.6v-2.1M380.0 165.6v-2.0M383.2 165.6v-1.1M385.7 165.6v-1.2M388.2 165.6v-1.6M390.7 165.6v-1.4M393.0 165.6v-2.1M395.7 165.6v-1.4M398.6 165.6v-2.1M401.3 165.6v-2.1M404.1 165.6v-1.5M406.9 165.6v-0.8M409.6 165.6v-1.1M411.8 165.6v-1.9M414.2 165.6v-1.5M417.3 165.6v-1.6M419.9 165.6v-1.5M422.8 165.6v-1.9M425.1 165.6v-1.6M427.6 165.6v-1.2M430.7 165.6v-1.5M433.6 165.6v-1.9M436.9 165.6v-1.4M439.8 165.6v-1.5M442.6 165.6v-1.8M445.4 165.6v-1.5M448.2 165.6v-2.1M451.2 165.6v-2.0M454.5 165.6v-1.2M457.4 165.6v-2.1M460.6 165.6v-1.0M463.0 165.6v-1.4M465.2 165.6v-1.1M467.5 165.6v-1.7M61.3 172.0v0.7M64.4 172.0v1.2M66.7 172.0v1.4M70.1 172.0v0.7M73.4 172.0v0.9M76.2 172.0v1.5M79.4 172.0v0.7M82.1 172.0v1.0M84.7 172.0v0.7M87.3 172.0v1.3M89.5 172.0v1.1M92.3 172.0v0.5M94.9 172.0v1.1M97.7 172.0v0.6M101.1 172.0v1.3M104.4 172.0v0.6M107.0 172.0v0.5M110.1 172.0v0.8M112.4 172.0v0.9M115.7 172.0v1.4M118.2 172.0v0.7M121.5 172.0v1.1M124.6 172.0v0.6M126.9 172.0v1.2M129.6 172.0v0.6M132.9 172.0v1.2M136.1 172.0v0.6M139.3 172.0v0.6M142.5 172.0v1.0M145.1 172.0v1.1M148.4 172.0v0.8M150.8 172.0v1.0M153.3 172.0v0.6M155.7 172.0v0.6M158.1 172.0v0.8M160.7 172.0v1.3M163.2 172.0v1.0M165.6 172.0v0.9M167.9 172.0v0.8M170.1 172.0v1.3M172.9 172.0v0.7M175.7 172.0v1.5M178.0 172.0v1.4M180.8 172.0v1.0M184.0 172.0v0.9M186.8 172.0v1.2M190.1 172.0v0.9M193.3 172.0v1.2M196.3 172.0v0.9M198.9 172.0v0.6M201.3 172.0v0.6M204.4 172.0v0.8M206.8 172.0v0.6M210.0 172.0v1.4M213.0 172.0v0.8M215.5 172.0v0.8M218.2 172.0v0.7M221.0 172.0v0.8M224.3 172.0v1.5M227.2 172.0v0.8M230.5 172.0v0.8M233.2 172.0v0.5M235.8 172.0v1.0M238.6 172.0v0.7M241.4 172.0v0.5M243.9 172.0v0.6M246.6 172.0v0.5M248.8 172.0v0.8M251.3 172.0v1.1M254.2 172.0v1.3M257.2 172.0v1.2M260.4 172.0v0.9M263.0 172.0v1.5M265.4 172.0v1.3M268.3 172.0v0.5M271.6 172.0v1.4M274.5 172.0v1.3M277.7 172.0v0.6M280.5 172.0v1.0M283.7 172.0v1.3M286.9 172.0v1.1M290.2 172.0v1.2M293.2 172.0v0.7M295.4 172.0v0.6M298.1 172.0v0.6M301.3 172.0v1.1M304.2 172.0v1.2M307.2 172.0v1.0M309.5 172.0v1.3M312.5 172.0v1.0M315.4 172.0v1.2M317.7 172.0v1.3M320.2 172.0v0.6M322.7 172.0v1.3M325.1 172.0v1.3M328.5 172.0v1.0M331.2 172.0v1.0M334.2 172.0v1.3M337.1 172.0v1.2M339.4 172.0v0.7M341.9 172.0v1.3M344.5 172.0v1.1M346.7 172.0v0.6M349.2 172.0v1.2M352.3 172.0v1.2M354.8 172.0v1.0M357.6 172.0v1.0M359.9 172.0v1.4M362.3 172.0v1.5M365.7 172.0v0.5M368.4 172.0v1.4M371.8 172.0v1.0M374.3 172.0v0.7M377.6 172.0v0.7M380.5 172.0v0.6M383.4 172.0v1.5M385.7 172.0v1.4M388.5 172.0v1.4M391.6 172.0v0.7M394.9 172.0v1.0M397.1 172.0v0.5M399.9 172.0v1.0M402.4 172.0v0.6M405.1 172.0v0.8M408.3 172.0v0.5M411.4 172.0v1.4M413.7 172.0v1.5M416.8 172.0v1.4M419.3 172.0v0.9M422.0 172.0v1.5M424.9 172.0v0.9M427.6 172.0v0.8M429.9 172.0v0.6M433.1 172.0v0.8M436.4 172.0v0.8M438.9 172.0v1.0M441.3 172.0v0.9M444.7 172.0v1.4M447.9 172.0v1.2M451.1 172.0v1.5M454.0 172.0v1.2M456.3 172.0v1.3M459.0 172.0v1.3M462.0 172.0v0.8M464.2 172.0v1.5M466.6 172.0v1.0" stroke="#0000f8" stroke-width="1.7" fill="none"/>
<path d="M81.5 164V192.8M144.2 170V186M264.5 86.2V195.7M328.5 130.7V178.6M413 163V198.5" stroke="#0000f8" stroke-width="1.2" fill="none" stroke-linejoin="round" stroke-linecap="butt"/>
<path d="M145 93.4H180.2" stroke="#e61212" stroke-width="1.5" fill="none" stroke-linejoin="round" stroke-linecap="round"/>
<path d="M135.6 93.4L145.5 90.6L145.5 96.2Z" fill="#e61212"/>
<path d="M264.4 94.8H303" stroke="#0000f8" stroke-width="1.5" fill="none" stroke-linejoin="round" stroke-linecap="round"/>
<path d="M309.6 94.8L301.5 92L301.5 97.6Z" fill="#0000f8"/>
<path d="M413 186.9H417" stroke="#000" stroke-width="1.5" fill="none" stroke-linejoin="round" stroke-linecap="round"/>
<path d="M421.5 186.9L416 184.6L416 189.2Z" fill="#000"/></g><g clip-path="url(#cb)"><path d="M62.10 511.30C62.46 512.14 64.22 515.86 65.00 518.00C65.78 520.14 67.42 524.65 68.30 528.40C69.17 532.15 71.04 542.17 72.00 548.00C72.96 553.83 75.00 567.88 76.00 575.00C77.00 582.12 79.12 598.38 80.00 605.00C80.88 611.62 82.33 623.02 83.00 628.00C83.67 632.98 84.90 644.30 85.40 644.80C85.90 645.30 86.58 635.42 87.00 632.00C87.42 628.58 88.36 619.59 88.80 617.40C89.24 615.21 90.08 614.79 90.50 614.50C90.92 614.21 91.64 615.91 92.20 615.10C92.76 614.29 94.15 610.27 95.00 608.00C95.85 605.73 98.06 600.15 99.00 596.90C99.94 593.65 101.64 586.27 102.50 582.00C103.36 577.73 105.09 568.58 105.90 562.70C106.71 556.83 108.29 542.14 109.00 535.00C109.71 527.86 111.04 511.23 111.60 505.60C112.16 499.98 113.08 493.14 113.50 490.00C113.92 486.86 114.59 479.88 115.00 480.50C115.41 481.12 116.36 490.86 116.80 495.00C117.24 499.14 118.08 511.60 118.50 513.60C118.92 515.60 119.78 511.29 120.20 511.00C120.62 510.71 121.36 510.55 121.90 511.30C122.44 512.05 123.79 514.86 124.50 517.00C125.21 519.14 126.72 524.52 127.60 528.40C128.47 532.27 130.50 542.30 131.50 548.00C132.50 553.70 134.72 567.88 135.60 574.00C136.47 580.12 137.79 591.29 138.50 597.00C139.21 602.71 140.68 614.83 141.30 619.70C141.93 624.58 142.94 632.71 143.50 636.00C144.06 639.29 145.24 646.50 145.80 646.00C146.36 645.50 147.43 635.58 148.00 632.00C148.57 628.42 149.78 619.65 150.40 617.40C151.03 615.15 152.00 615.42 153.00 614.00C154.00 612.58 157.34 609.00 158.40 606.00C159.46 603.00 160.65 595.41 161.50 590.00C162.35 584.59 164.32 570.20 165.20 562.70C166.07 555.20 167.71 537.46 168.50 530.00C169.29 522.54 170.88 508.25 171.50 503.00C172.12 497.75 173.04 490.86 173.50 488.00C173.96 485.14 174.76 479.10 175.20 480.10C175.64 481.10 176.53 492.00 177.00 496.00C177.47 500.00 178.39 509.94 179.00 512.10C179.61 514.26 181.15 511.94 181.90 513.30C182.65 514.66 184.11 519.29 185.00 523.00C185.89 526.71 188.06 538.00 189.00 543.00C189.94 548.00 191.61 557.65 192.50 563.00C193.39 568.35 195.05 578.20 196.10 585.80C197.15 593.40 199.97 617.02 200.90 623.80C201.83 630.57 202.91 637.19 203.50 640.00C204.09 642.81 205.16 647.05 205.60 646.30C206.04 645.55 206.64 637.41 207.00 634.00C207.36 630.59 207.93 621.17 208.50 619.00C209.07 616.83 210.47 618.98 211.60 616.60C212.72 614.23 216.39 603.95 217.50 600.00C218.61 596.05 219.75 589.15 220.50 585.00C221.25 580.85 222.93 569.67 223.50 566.80C224.07 563.92 224.66 562.23 225.10 562.00C225.54 561.77 226.39 563.75 227.00 565.00C227.61 566.25 229.10 570.00 230.00 572.00C230.90 574.00 233.20 577.50 234.20 581.00C235.20 584.50 237.15 595.50 238.00 600.00C238.85 604.50 240.29 613.59 241.00 617.00C241.71 620.41 243.07 626.67 243.70 627.30C244.32 627.92 245.40 624.16 246.00 622.00C246.60 619.84 247.88 614.00 248.50 610.00C249.12 606.00 250.26 598.38 251.00 590.00C251.74 581.62 253.65 553.62 254.40 543.00C255.15 532.38 256.41 512.71 257.00 505.00C257.59 497.29 258.54 487.18 259.10 481.30C259.66 475.43 260.90 463.65 261.50 458.00C262.10 452.35 263.51 424.29 263.90 436.10C264.29 447.91 264.21 540.76 264.60 552.50C264.99 564.24 266.35 534.15 267.00 530.00C267.65 525.85 269.24 521.80 269.80 519.30C270.36 516.80 271.05 511.49 271.50 510.00C271.95 508.51 272.84 506.90 273.40 507.40C273.96 507.90 275.18 511.94 276.00 514.00C276.82 516.06 279.00 520.52 280.00 523.90C281.00 527.27 283.00 535.86 284.00 541.00C285.00 546.14 287.06 558.62 288.00 565.00C288.94 571.38 290.62 584.88 291.50 592.00C292.38 599.12 294.25 616.00 295.00 622.00C295.75 628.00 296.95 636.73 297.50 640.00C298.05 643.27 298.96 648.83 299.40 648.20C299.84 647.58 300.57 638.56 301.00 635.00C301.43 631.44 302.30 622.58 302.80 619.70C303.30 616.83 304.29 614.56 305.00 612.00C305.71 609.44 307.69 602.70 308.50 599.20C309.31 595.70 310.79 588.27 311.50 584.00C312.21 579.73 313.51 570.25 314.20 565.00C314.89 559.75 316.29 548.00 317.00 542.00C317.71 536.00 319.21 523.00 319.90 517.00C320.59 511.00 321.88 499.27 322.50 494.00C323.12 488.73 324.40 475.05 324.90 474.80C325.40 474.55 326.12 487.86 326.50 492.00C326.88 496.14 327.30 505.77 327.90 507.90C328.50 510.02 330.54 507.99 331.30 509.00C332.06 510.01 333.29 513.85 334.00 516.00C334.71 518.15 336.19 522.83 337.00 526.20C337.81 529.58 339.64 538.44 340.50 543.00C341.36 547.56 343.09 557.45 343.90 562.70C344.71 567.95 346.29 579.59 347.00 585.00C347.71 590.41 348.91 600.38 349.60 606.00C350.29 611.62 351.79 624.44 352.50 630.00C353.21 635.56 354.68 649.88 355.30 650.50C355.93 651.12 356.93 638.85 357.50 635.00C358.07 631.15 359.32 621.90 359.90 619.70C360.47 617.50 361.25 619.11 362.10 617.40C362.95 615.69 365.71 609.80 366.70 606.00C367.69 602.20 369.15 592.41 370.00 587.00C370.85 581.59 372.62 568.58 373.50 562.70C374.38 556.83 376.14 545.71 377.00 540.00C377.86 534.29 379.59 522.62 380.40 517.00C381.21 511.38 382.79 499.95 383.50 495.00C384.21 490.05 385.62 477.65 386.10 477.40C386.58 477.15 387.01 489.00 387.30 493.00C387.59 497.00 387.80 507.11 388.40 509.40C389.00 511.69 391.05 509.77 392.10 511.30C393.15 512.83 395.88 518.64 396.80 521.60C397.73 524.56 398.80 531.04 399.50 535.00C400.20 538.96 401.65 548.67 402.40 553.30C403.15 557.92 404.80 567.34 405.50 572.00C406.20 576.66 407.38 585.85 408.00 590.60C408.62 595.35 409.91 605.34 410.50 610.00C411.09 614.66 412.04 622.98 412.70 627.90C413.36 632.82 415.26 648.14 415.80 649.40C416.34 650.66 416.69 640.69 417.00 638.00C417.31 635.31 417.79 630.21 418.30 627.90C418.81 625.59 420.18 621.83 421.10 619.50C422.03 617.17 424.77 612.11 425.70 609.30C426.62 606.49 427.80 600.50 428.50 597.00C429.20 593.50 430.61 585.92 431.30 581.30C431.99 576.67 433.30 565.36 434.00 560.00C434.70 554.64 436.17 543.90 436.90 538.40C437.62 532.90 439.10 521.14 439.80 516.00C440.50 510.86 441.76 502.09 442.50 497.30C443.24 492.51 445.09 478.11 445.70 477.70C446.31 477.29 446.97 490.04 447.40 494.00C447.82 497.96 448.54 507.24 449.10 509.40C449.66 511.56 450.85 509.77 451.90 511.30C452.95 512.83 456.49 519.01 457.50 521.60C458.51 524.19 459.41 529.20 460.00 532.00C460.59 534.80 461.64 541.12 462.20 544.00C462.76 546.88 463.94 552.44 464.50 555.00C465.06 557.56 466.43 563.31 466.70 564.50" stroke="#e61212" stroke-width="1.8" fill="none" stroke-linejoin="round" stroke-linecap="round"/>\n<path d="M62.10 546.70L67.00 555.50L73.30 565.00L80.00 575.00L84.50 580.50L86.50 585.00L87.50 591.00L88.50 586.00L90.00 583.00L93.30 578.00L100.00 564.60L106.60 554.00L113.20 547.30L115.30 543.00L116.60 532.00L117.80 538.00L120.00 542.00L123.90 548.60L130.00 561.00L136.00 570.50L142.00 578.00L145.20 582.00L146.70 586.00L147.50 592.00L148.50 587.00L150.00 583.00L153.00 578.00L160.00 564.60L166.50 554.00L173.00 547.30L175.20 543.00L176.50 532.00L177.70 538.00L180.00 542.00L184.00 548.60L190.00 561.00L196.00 570.50L202.00 578.00L205.20 582.00L206.70 586.00L207.50 591.50L208.70 586.00L212.00 577.00L215.90 567.30L222.20 555.80L224.30 552.00L227.00 556.00L232.60 563.10L236.50 569.00L238.90 574.50L241.50 569.00L247.30 556.80L255.60 544.30L261.90 540.10L265.50 537.00L267.10 531.00L268.50 537.00L274.50 542.20L282.80 558.90L291.20 571.50L296.50 578.50L299.30 583.00L300.50 591.50L301.50 587.00L303.00 583.00L306.50 578.00L313.00 564.60L319.50 554.00L324.50 547.30L325.80 543.00L326.80 532.00L328.00 538.00L330.50 542.00L334.50 548.60L341.00 561.00L347.00 570.50L353.00 578.00L355.80 582.00L357.00 586.00L357.60 592.00L358.60 587.00L360.50 583.00L364.00 578.00L370.50 564.60L377.00 554.00L383.50 547.30L385.80 543.00L387.20 532.00L388.40 538.00L390.50 542.00L394.50 548.60L401.00 561.00L407.00 570.50L413.00 578.00L416.30 582.00L417.60 586.00L418.30 592.00L419.30 587.00L421.00 583.00L424.50 578.00L431.00 564.60L437.50 554.00L444.00 547.30L446.30 543.00L447.60 532.00L448.80 538.00L451.00 542.00L455.00 548.60L461.00 561.00L466.70 570.00" stroke="#0000f8" stroke-width="5.0" fill="none" stroke-linejoin="round" stroke-linecap="round"/>\n<path d="M58.41 548.76L61.18 548.59L59.48 550.91L61.80 550.99L60.44 553.12L62.90 553.12L62.54 554.73L64.53 555.01L62.26 557.80L65.74 557.13L64.99 559.07L67.01 559.23L66.30 561.16L67.99 561.47L67.22 563.43L69.66 563.25L68.45 565.50L70.95 565.28L68.97 568.04L72.55 567.10L71.42 569.30L73.50 569.35L72.02 571.79L75.23 571.09L73.04 573.99L75.97 573.48L74.51 576.01L78.02 575.06L77.26 577.15L79.35 577.12L78.83 579.11L81.02 578.92L80.22 580.90L81.85 581.06L80.38 583.21L83.28 582.74L82.15 584.35L83.78 584.74L83.09 586.08L84.46 586.81L81.77 588.49L84.75 589.21L84.76 591.11L87.38 593.27L90.15 591.25L90.28 589.47L91.25 588.35L90.74 587.08L91.48 586.25L91.63 585.19L92.54 584.51L92.56 583.23L93.87 582.69L94.02 581.37L95.38 580.74L95.38 579.28L96.57 578.51L96.51 577.06L97.77 576.29L97.56 574.84L98.42 573.93L98.68 572.71L99.61 571.84L99.67 570.53L100.64 569.67L100.85 568.45L101.87 567.68L101.77 566.31L103.12 565.74L103.08 564.38L104.11 563.65L104.28 562.37L105.43 561.67L105.51 560.31L106.89 559.76L106.71 558.24L107.70 557.56L108.01 556.44L109.10 555.90L109.39 554.72L110.55 554.28L110.90 553.09L112.00 552.49L112.53 551.29L114.08 550.89L114.37 549.38L115.73 548.73L115.80 547.16L117.07 546.14L117.06 544.57L118.31 543.56L117.78 542.04L118.36 540.79L118.00 539.42L119.02 538.33L118.34 537.04L119.14 535.93L118.75 534.86L118.99 534.28L116.70 534.38L114.06 534.64L115.16 534.89L113.58 536.45L115.39 537.36L114.26 539.15L116.72 539.62L115.12 541.84L117.53 542.13L116.82 543.95L119.09 544.04L116.91 546.72L120.16 546.22L119.38 548.04L121.54 548.14L119.57 550.56L122.27 550.42L121.05 552.36L123.26 552.55L121.77 554.61L124.39 554.66L122.20 557.07L125.27 556.90L123.45 559.13L126.81 558.82L125.54 560.87L127.39 561.31L126.44 563.27L129.21 563.12L128.32 565.11L130.38 565.29L128.82 567.70L131.79 567.24L130.01 569.78L132.85 569.45L132.47 571.20L134.34 571.42L133.50 573.57L135.85 573.38L134.56 575.98L137.18 575.44L135.62 578.22L139.03 577.03L138.31 579.14L140.33 579.07L139.43 581.32L141.96 580.77L139.81 583.55L143.19 582.59L141.23 584.85L144.05 584.51L142.69 586.01L145.07 586.40L142.56 588.09L144.63 588.78L144.02 590.22L145.06 591.75L147.10 594.96L149.80 592.06L151.00 590.68L150.43 589.09L151.25 588.13L151.15 586.94L152.05 586.15L151.74 584.89L153.03 584.29L152.72 582.88L153.82 582.20L154.04 580.99L155.25 580.27L155.16 578.82L156.27 578.03L156.30 576.65L157.36 575.83L157.39 574.49L158.65 573.80L158.59 572.42L159.78 571.68L159.61 570.24L160.79 569.50L160.80 568.17L162.01 567.50L161.89 566.10L163.27 565.54L163.15 564.12L164.09 563.31L164.28 562.04L165.50 561.38L165.66 560.07L166.97 559.47L166.78 557.97L167.80 557.32L167.95 556.08L169.07 555.55L169.48 554.47L170.50 553.91L171.03 552.84L172.29 552.39L172.72 551.05L174.12 550.50L174.58 549.17L175.86 548.45L175.84 546.78L177.35 545.85L177.14 544.25L178.41 543.23L177.79 541.68L178.39 540.41L177.97 539.08L178.69 537.95L178.40 536.71L179.30 535.66L178.51 534.57L178.93 534.40L175.36 534.52L173.92 534.71L175.41 535.12L173.09 536.99L175.53 537.69L174.35 539.54L176.22 540.23L175.10 542.33L177.86 542.34L177.03 544.24L179.30 544.30L177.04 547.07L179.99 546.70L179.04 548.61L181.39 548.58L180.13 550.59L182.71 550.51L180.79 552.79L183.41 552.77L181.73 554.91L184.46 554.92L183.18 556.88L186.04 556.83L183.89 559.20L186.89 559.10L185.17 561.38L188.23 561.18L186.93 563.33L189.30 563.41L187.36 566.06L190.72 565.42L188.87 568.01L191.91 567.50L190.10 570.07L192.92 569.76L192.63 571.46L194.45 571.71L193.76 573.77L196.02 573.63L194.68 576.27L197.45 575.60L195.66 578.56L199.06 577.38L197.19 580.41L200.50 579.30L199.80 581.40L201.57 581.39L200.89 583.11L203.07 582.96L201.59 584.88L204.39 584.64L201.31 586.65L204.97 586.72L202.50 588.40L204.66 589.21L204.59 590.78L205.92 592.97L209.87 592.93L210.04 590.42L211.10 589.24L210.75 587.89L211.66 586.96L211.40 585.70L212.24 584.78L212.20 583.55L212.97 582.56L212.99 581.29L214.10 580.44L213.67 579.01L214.57 578.08L214.65 576.84L215.92 576.06L215.51 574.63L216.68 573.80L216.31 572.36L217.50 571.56L217.26 570.22L218.15 569.36L218.16 568.10L219.27 567.36L219.29 566.09L220.44 565.39L220.36 563.98L221.80 563.40L221.52 561.88L222.52 561.06L222.66 559.77L223.79 559.02L223.84 557.68L225.06 556.98L224.83 555.80L225.32 555.65L224.49 554.04L223.72 555.92L223.99 555.42L222.51 557.48L225.11 556.85L224.66 558.70L226.60 558.79L225.76 561.00L227.89 560.87L226.68 563.34L229.26 562.80L227.98 565.20L231.17 564.30L229.92 566.60L232.49 566.24L230.79 568.74L233.42 568.38L231.82 570.60L234.72 570.25L233.93 571.91L235.39 572.53L234.47 575.19L237.54 575.29L239.46 577.41L241.13 575.03L242.39 573.59L242.65 572.01L243.68 571.17L243.76 569.87L244.75 569.02L244.71 567.67L246.06 566.99L245.70 565.48L247.03 564.79L246.86 563.38L248.13 562.66L247.90 561.22L248.85 560.41L248.85 559.13L249.73 558.32L249.88 557.09L251.27 556.61L251.27 555.26L252.58 554.70L252.62 553.29L253.75 552.60L253.76 551.17L255.20 550.68L255.17 549.22L256.15 548.51L256.34 547.37L257.24 546.80L257.68 545.83L258.97 545.76L259.42 544.69L260.67 544.57L261.36 543.35L262.91 543.37L263.41 541.93L264.86 541.70L265.42 540.06L267.25 539.63L267.50 538.06L268.74 537.09L268.29 535.31L269.30 534.47L268.63 533.59L267.33 535.22L265.87 533.25L263.80 534.68L265.69 535.16L264.59 537.18L266.32 538.00L266.35 539.74L268.77 539.66L268.73 541.78L270.62 541.50L270.43 543.18L271.99 543.10L271.57 544.70L273.46 544.58L272.45 546.37L274.10 546.68L273.20 548.46L275.65 548.59L274.36 550.57L276.79 550.70L274.92 552.97L277.53 553.01L276.87 554.68L278.84 555.04L277.09 557.25L279.53 557.41L278.01 559.65L280.45 559.76L279.74 561.64L282.29 561.56L281.51 563.55L283.38 563.78L281.70 566.34L284.93 565.63L284.01 567.68L285.92 567.86L285.78 569.39L287.74 569.53L287.00 571.51L289.00 571.62L287.73 574.01L290.57 573.48L288.64 576.44L291.93 575.51L290.03 578.46L293.39 577.39L291.99 579.84L294.35 579.58L293.67 581.43L295.52 581.53L294.43 583.20L296.83 583.14L295.99 584.50L297.48 585.08L294.81 586.66L297.39 587.27L296.92 588.57L297.90 589.87L297.98 591.87L301.04 593.58L303.51 591.64L303.34 589.77L304.12 588.60L303.93 587.36L304.76 586.52L304.60 585.35L305.80 584.78L305.53 583.42L306.92 582.98L306.95 581.66L308.21 581.00L308.37 579.60L309.64 578.87L309.56 577.37L310.42 576.39L310.58 575.10L311.87 574.39L311.60 572.93L312.84 572.20L312.68 570.78L313.71 569.95L313.72 568.63L315.01 567.99L314.67 566.51L315.56 565.68L315.88 564.53L316.81 563.74L317.06 562.52L318.39 561.93L318.39 560.52L319.69 559.91L319.60 558.45L320.56 557.67L320.69 556.38L322.03 555.88L322.15 554.55L323.36 553.99L323.56 552.71L324.74 552.10L325.02 550.65L326.26 549.83L326.64 548.50L327.40 547.36L327.42 545.83L328.49 544.63L328.06 543.21L329.09 542.08L328.49 540.69L329.03 539.47L328.69 538.23L329.55 537.11L328.83 535.84L329.30 534.86L328.82 534.00L327.18 535.12L325.31 534.03L323.32 535.41L325.73 535.95L324.18 537.81L325.75 538.71L324.50 540.75L327.37 540.87L326.02 543.24L328.79 542.97L327.11 545.40L330.26 544.87L328.68 547.23L331.26 547.06L329.41 549.51L332.38 549.13L330.43 551.57L333.45 551.23L331.97 553.35L334.63 553.28L333.30 555.34L335.59 555.49L333.91 557.73L337.01 557.46L334.98 559.88L338.04 559.66L337.22 561.51L339.11 561.87L338.58 563.61L340.42 563.94L339.48 565.98L341.52 566.13L339.77 568.65L343.10 567.96L341.88 570.20L344.10 570.24L343.02 572.52L345.40 572.37L345.25 574.04L347.52 573.87L346.63 576.14L348.62 576.09L347.11 578.80L350.14 577.90L349.03 580.22L351.34 579.94L350.77 581.69L353.23 581.32L351.61 583.40L353.89 583.40L351.49 585.35L354.89 585.23L352.79 586.75L354.85 587.48L354.40 588.68L354.93 589.90L354.86 591.61L356.97 594.12L360.64 592.53L360.26 590.50L361.30 589.43L360.80 588.13L361.63 587.27L361.58 586.15L362.48 585.45L362.50 584.22L363.67 583.61L363.76 582.33L364.93 581.68L365.15 580.32L366.41 579.60L366.62 578.26L367.63 577.36L367.64 575.94L368.80 575.16L368.75 573.80L369.59 572.87L369.69 571.59L370.73 570.76L370.86 569.49L372.12 568.80L371.82 567.35L372.82 566.58L372.87 565.28L374.06 564.63L374.11 563.32L375.38 562.72L375.33 561.28L376.59 560.64L376.49 559.18L377.88 558.64L377.77 557.25L378.86 556.67L378.91 555.34L380.12 554.90L380.57 553.83L381.76 553.43L382.12 552.11L383.49 551.70L383.96 550.34L385.10 549.57L385.64 548.34L386.70 547.42L387.05 545.91L388.25 544.85L388.05 543.36L388.74 542.15L388.60 540.73L389.36 539.51L388.86 538.24L389.36 537.09L389.19 535.86L389.67 534.94L388.69 533.92L387.20 535.48L385.50 534.22L382.63 535.79L385.88 536.05L383.09 538.23L386.38 538.60L385.75 540.26L387.89 540.79L386.42 543.08L388.73 543.22L388.27 544.90L390.24 545.16L389.22 547.20L391.33 547.31L390.04 549.43L392.42 549.40L390.30 551.92L393.29 551.61L391.94 553.65L394.62 553.58L392.67 555.96L396.13 555.50L394.61 557.65L396.87 557.82L396.03 559.62L397.86 560.05L397.28 561.79L399.03 562.22L398.29 564.09L400.90 563.96L398.71 566.79L401.76 566.28L400.27 568.64L402.96 568.36L402.42 570.17L404.37 570.39L402.93 572.92L405.75 572.45L404.15 575.22L407.56 574.18L405.77 577.16L408.78 576.29L408.54 578.03L410.28 578.17L409.38 580.45L411.85 580.01L411.60 581.67L413.41 581.63L412.43 583.45L414.62 583.36L412.43 585.35L415.37 585.25L414.01 586.63L415.49 587.45L413.77 588.85L416.25 589.73L415.40 591.58L417.35 594.06L420.83 592.49L420.97 590.60L422.14 589.53L421.45 588.15L422.29 587.26L422.21 586.14L423.41 585.57L423.04 584.18L424.22 583.59L424.43 582.43L425.47 581.71L425.78 580.40L426.96 579.64L427.11 578.26L428.03 577.31L428.18 575.96L429.07 575.05L429.15 573.76L430.39 573.03L430.26 571.63L431.12 570.71L431.38 569.51L432.42 568.70L432.35 567.37L433.14 566.48L433.29 565.24L434.41 564.55L434.65 563.35L435.80 562.67L435.86 561.30L437.21 560.72L437.06 559.22L438.21 558.53L438.33 557.30L439.55 556.82L439.38 555.32L440.57 554.87L441.05 553.82L442.45 553.62L442.69 552.18L444.03 551.75L444.49 550.37L445.77 549.71L446.13 548.34L447.34 547.50L447.45 545.86L448.96 544.92L448.65 543.38L449.32 542.15L448.92 540.69L450.02 539.50L449.34 538.22L450.03 537.09L449.58 535.83L450.42 534.97L449.70 534.15L447.56 534.95L445.73 534.29L444.74 535.31L445.97 536.14L445.14 537.77L447.04 538.54L445.96 540.39L448.33 540.81L447.15 542.96L449.49 543.04L447.61 545.56L450.69 545.15L449.53 547.27L452.02 547.14L450.32 549.46L453.14 549.20L450.97 551.67L453.75 551.51L452.23 553.55L454.82 553.61L453.41 555.62L456.46 555.48L454.28 557.87L457.25 557.77L454.90 560.26L457.88 560.19L457.44 561.84L459.17 562.32L457.22 564.90L460.52 564.40L459.34 566.61L461.86 566.44L460.20 568.91L463.08 568.51L461.79 570.75L464.86 570.22L462.73 572.51L468.42 568.91L469.74 567.13L467.20 567.32L468.46 565.10L465.86 565.32L467.04 563.16L464.83 563.14L465.31 561.47L463.85 561.01L465.30 558.88L462.76 558.98L464.28 556.91L461.04 557.26L462.73 555.11L460.43 554.89L461.22 553.18L458.99 552.92L459.96 551.12L458.48 550.49L459.52 548.58L456.98 548.49L458.80 546.09L456.05 546.19L457.84 543.70L454.53 544.24L455.74 542.14L453.67 541.99L454.63 540.07L452.30 540.06L453.01 538.51L450.97 538.29L452.81 536.46L450.58 536.12L452.89 534.42L450.43 533.73L450.34 531.92L447.64 529.57L444.83 532.00L445.00 533.89L444.30 535.20L444.69 536.46L443.83 537.57L444.47 538.85L443.53 539.80L444.21 540.98L443.23 541.77L443.61 542.95L442.42 543.46L442.75 544.67L441.65 545.17L441.51 546.38L440.29 546.76L439.98 547.93L438.87 548.47L438.32 549.62L437.08 550.21L436.60 551.52L435.41 552.21L434.98 553.51L433.65 554.16L433.64 555.71L432.42 556.38L432.45 557.80L431.19 558.44L431.24 559.87L429.97 560.54L429.89 561.93L428.62 562.64L428.59 564.04L427.63 564.94L427.53 566.28L426.43 567.10L426.46 568.45L425.45 569.30L425.33 570.57L424.31 571.41L424.40 572.79L423.33 573.59L423.28 574.83L422.24 575.54L422.36 576.91L421.33 577.60L421.05 578.78L419.87 579.47L419.60 580.82L418.54 581.70L418.32 583.08L417.01 584.02L417.36 585.63L416.08 586.58L416.62 588.04L415.71 588.83L416.51 589.78L419.32 589.24L420.41 589.79L421.72 588.73L420.01 587.89L422.37 586.15L419.82 585.34L421.63 583.37L418.92 582.70L419.64 580.76L417.65 580.31L417.85 578.56L416.16 578.10L416.48 576.23L414.67 576.16L415.79 573.73L412.64 574.73L413.71 572.34L411.71 572.41L412.75 570.07L410.02 570.76L410.46 569.00L408.66 568.88L410.43 566.29L407.43 566.92L407.74 565.34L406.10 564.96L406.54 563.26L404.93 562.86L406.30 560.64L403.50 560.98L404.72 558.93L402.51 558.86L403.80 556.83L401.32 556.84L403.12 554.55L399.83 554.91L401.45 552.71L398.91 552.69L400.74 550.37L398.18 550.35L399.09 548.47L396.64 548.41L397.81 546.34L395.19 546.43L396.36 544.31L394.42 544.05L395.95 541.77L392.66 542.35L393.63 540.44L392.00 540.02L392.74 538.49L391.04 538.11L392.91 536.32L390.43 536.05L392.60 534.40L390.05 533.71L390.77 531.45L387.21 529.87L382.61 531.14L384.62 533.88L383.89 535.18L384.31 536.45L383.40 537.54L383.94 538.82L383.27 539.81L383.63 540.94L383.09 541.86L383.16 542.96L381.89 543.44L382.29 544.69L381.24 545.23L381.06 546.42L379.95 546.91L379.60 548.04L378.17 548.28L377.80 549.59L376.49 550.13L376.10 551.51L374.58 551.95L374.56 553.56L373.42 554.34L373.09 555.67L372.14 556.50L371.90 557.77L370.56 558.35L370.65 559.81L369.38 560.48L369.39 561.93L368.31 562.74L368.21 564.10L366.89 564.81L366.94 566.23L365.73 567.00L365.99 568.46L365.01 569.32L364.89 570.60L363.68 571.34L363.84 572.76L363.02 573.68L362.88 574.88L361.58 575.45L361.89 576.93L360.59 577.45L360.52 578.75L359.28 579.38L359.17 580.82L357.73 581.44L357.80 582.99L356.84 584.06L356.65 585.47L355.86 586.57L356.09 587.98L355.38 588.87L355.81 589.82L358.36 589.07L359.80 589.86L360.54 588.96L359.56 587.99L360.36 586.56L359.28 585.45L360.53 583.72L358.48 582.82L360.62 580.32L357.45 580.34L359.20 577.72L355.73 578.26L357.43 575.43L354.57 576.02L355.05 574.10L352.53 574.51L353.06 572.53L351.36 572.35L351.49 570.76L349.74 570.65L351.32 568.07L348.09 568.97L350.01 566.28L346.92 566.95L349.00 564.24L345.53 565.01L346.40 563.04L344.66 562.73L345.43 560.88L343.19 560.88L344.48 558.78L342.21 558.74L342.86 557.06L341.23 556.60L342.68 554.49L339.67 554.71L340.62 552.85L338.55 552.58L340.32 550.30L337.43 550.45L339.02 548.20L336.34 548.27L338.79 545.47L335.19 546.13L336.97 543.63L334.17 543.90L335.56 541.64L333.11 541.72L333.37 540.15L331.72 539.77L332.59 538.09L330.69 537.90L331.79 536.37L329.74 536.03L330.77 534.66L329.19 533.78L331.28 530.95L326.50 529.63L323.62 532.12L324.15 534.04L323.70 535.37L323.92 536.59L323.20 537.73L323.87 539.00L322.86 540.02L323.60 541.24L322.58 542.18L323.14 543.41L322.26 544.15L322.72 545.34L321.52 545.88L321.66 547.13L320.29 547.49L320.42 548.87L319.26 549.51L318.86 550.75L317.45 551.28L317.52 552.83L316.26 553.48L316.20 554.92L314.97 555.61L314.90 556.97L313.59 557.58L313.66 559.03L312.32 559.62L312.34 561.07L311.09 561.78L311.04 563.18L309.88 563.97L310.02 565.44L308.75 566.19L308.79 567.56L307.88 568.46L307.91 569.81L306.67 570.54L306.78 571.93L305.91 572.84L305.68 574.03L304.83 574.87L304.79 576.13L303.72 576.81L303.61 578.07L302.56 578.77L302.10 579.97L300.97 580.83L300.79 582.21L299.79 583.23L299.75 584.69L298.65 585.75L298.99 587.17L298.18 588.00L298.66 588.99L299.91 588.54L302.31 589.35L303.10 588.57L302.44 587.74L303.89 586.35L301.60 585.37L304.58 583.21L301.40 582.66L303.18 580.47L299.91 580.40L300.93 578.17L298.81 577.98L300.38 575.39L297.24 576.07L297.86 574.08L296.05 573.89L296.71 571.89L294.47 572.11L295.58 569.85L292.94 570.31L293.45 568.52L291.77 568.25L293.34 565.79L290.06 566.53L291.93 563.85L288.93 564.40L290.96 561.61L287.62 562.40L288.43 560.41L286.54 560.25L287.74 558.15L284.81 558.61L286.32 556.42L284.10 556.36L286.24 553.96L282.86 554.38L284.14 552.40L281.47 552.39L282.79 550.40L280.39 550.25L281.93 548.14L279.38 548.07L281.11 545.87L278.57 545.80L280.53 543.48L277.64 543.44L278.30 541.41L276.12 541.26L276.62 539.10L274.57 539.09L275.36 536.16L272.46 537.64L272.88 535.94L270.81 536.48L271.87 534.81L269.72 534.93L271.87 533.14L269.84 532.46L271.54 528.88L266.94 528.69L264.37 530.47L264.29 532.55L263.24 533.50L263.78 534.72L262.81 535.20L262.84 536.27L261.66 536.40L261.41 537.45L260.13 537.62L259.60 538.83L258.30 538.98L257.69 540.12L256.12 540.15L255.42 541.50L253.81 541.76L253.46 543.32L252.00 543.88L251.83 545.49L250.55 546.15L250.47 547.54L249.29 548.19L249.24 549.60L248.02 550.24L247.86 551.57L246.58 552.17L246.55 553.65L245.28 554.36L245.18 555.76L244.12 556.61L244.06 558.00L243.04 558.91L243.12 560.27L241.99 561.07L241.96 562.38L240.94 563.22L241.07 564.61L239.84 565.36L239.86 566.70L238.73 567.49L238.83 568.87L237.72 569.67L237.99 570.79L237.49 570.83L238.66 571.81L240.53 570.26L239.73 571.29L240.70 569.87L238.66 569.55L240.19 567.32L237.48 567.36L239.09 564.91L236.06 565.30L237.36 562.93L235.21 562.90L235.72 561.01L233.53 561.09L234.04 559.15L231.86 559.27L232.86 556.95L230.62 557.20L231.86 554.78L229.03 555.46L229.58 553.61L227.98 553.16L228.05 550.42L225.48 550.33L222.99 547.41L222.12 551.63L220.63 552.79L220.31 554.37L219.11 555.08L219.08 556.43L217.93 557.17L218.05 558.61L216.96 559.38L216.91 560.72L215.67 561.41L215.65 562.77L214.62 563.62L214.51 564.97L213.49 565.86L213.28 567.15L212.35 568.11L212.36 569.47L211.24 570.32L211.54 571.74L210.28 572.53L210.59 573.96L209.61 574.88L209.84 576.27L208.50 577.05L208.81 578.47L207.69 579.35L208.14 580.79L207.31 581.77L207.13 583.04L206.08 584.03L206.41 585.44L205.62 586.53L205.89 587.83L205.13 588.56L205.87 589.06L209.29 588.65L209.51 589.05L210.27 587.94L208.74 587.09L210.13 585.44L208.26 584.58L210.10 582.38L207.39 581.96L209.47 579.23L206.32 579.55L206.55 577.73L204.49 577.65L205.79 575.07L203.24 575.57L204.32 573.17L201.33 574.03L202.26 571.75L199.88 572.11L200.72 569.99L198.17 570.48L199.77 567.91L197.22 568.31L198.32 566.20L196.18 566.22L196.98 564.30L194.41 564.51L196.48 561.78L193.40 562.33L195.11 559.98L191.79 560.58L194.03 558.05L191.03 558.35L192.36 556.40L189.74 556.37L192.03 553.93L189.33 553.90L189.87 552.31L187.99 551.89L189.33 549.90L186.60 549.86L187.46 548.02L185.82 547.49L187.03 545.39L184.30 545.52L186.53 542.73L183.53 543.16L185.37 540.67L182.22 541.17L182.74 539.48L180.84 539.32L181.52 537.83L180.09 537.31L181.96 535.59L179.07 535.39L180.49 533.78L178.91 532.64L177.94 529.84L174.41 531.63L173.52 533.40L173.74 534.91L173.20 536.10L173.53 537.34L172.90 538.48L173.32 539.67L172.23 540.53L172.93 541.75L171.91 542.50L172.14 543.62L171.16 544.13L171.33 545.39L170.15 545.84L169.89 546.98L168.76 547.40L168.39 548.61L167.23 549.15L166.69 550.39L165.21 550.81L164.93 552.26L163.72 552.96L163.43 554.34L162.49 555.27L162.09 556.47L160.93 557.17L160.87 558.54L159.55 559.14L159.64 560.61L158.47 561.34L158.46 562.76L157.23 563.48L157.09 564.81L156.05 565.65L156.11 567.06L154.92 567.79L154.84 569.10L153.81 569.92L153.76 571.25L152.69 572.04L152.79 573.45L151.40 574.05L151.60 575.48L150.49 576.21L150.49 577.56L149.22 578.18L149.25 579.63L148.24 580.53L147.95 581.81L146.78 582.70L147.04 584.27L146.10 585.37L146.20 586.73L145.44 587.84L145.59 588.94L145.33 589.52L147.79 589.65L150.07 589.56L149.54 589.07L150.22 587.82L148.65 586.80L151.80 584.72L147.94 584.34L150.23 581.91L147.04 581.78L148.08 579.66L145.87 579.47L147.28 576.76L144.20 577.51L145.87 574.63L142.77 575.57L144.08 572.99L141.51 573.51L142.69 571.03L139.58 571.99L140.83 569.56L138.40 569.97L138.90 568.19L136.99 568.13L137.70 566.28L135.94 566.04L137.74 563.48L134.33 564.21L135.61 561.99L133.50 561.94L134.04 560.28L132.28 559.98L132.74 558.41L130.67 558.21L132.51 555.99L130.19 555.81L130.51 554.32L128.83 553.81L130.87 551.47L127.73 551.67L129.05 549.67L126.82 549.40L127.52 547.65L125.22 547.48L127.47 544.81L124.30 545.19L125.30 543.18L123.16 543.07L125.11 540.56L121.92 541.04L123.53 538.79L120.47 539.23L122.59 537.16L120.00 537.09L122.01 535.35L119.72 534.93L122.02 532.96L118.94 532.07L116.48 529.13L114.29 532.27L113.22 533.78L113.89 535.31L112.99 536.41L113.51 537.68L112.54 538.77L113.30 539.97L112.46 540.87L113.01 542.08L112.00 542.84L112.27 543.95L111.07 544.33L111.39 545.74L109.97 545.98L109.94 547.30L108.52 547.43L108.33 548.87L106.82 549.07L106.62 550.67L105.13 551.09L104.87 552.55L103.38 553.04L103.30 554.58L102.13 555.37L102.11 556.78L100.71 557.33L100.73 558.75L99.69 559.52L99.44 560.80L98.44 561.64L98.16 562.92L97.17 563.79L97.14 565.18L96.08 566.02L96.02 567.36L94.97 568.17L94.97 569.52L93.69 570.22L93.92 571.68L92.91 572.51L92.78 573.78L91.45 574.39L91.82 575.89L90.80 576.63L90.63 577.86L89.55 578.55L89.34 579.84L88.04 580.51L87.88 581.90L86.65 582.81L86.70 584.33L85.80 585.44L85.87 586.83L85.24 587.72L85.78 588.71L87.65 587.88L89.43 588.69L90.24 587.81L88.69 587.06L90.46 585.30L88.57 584.45L90.39 582.46L87.28 582.11L88.77 579.75L86.59 579.45L86.73 577.79L84.94 577.43L86.09 574.83L83.32 575.55L83.89 573.64L81.64 573.89L82.73 571.67L80.44 571.88L81.16 569.99L78.86 570.09L80.12 567.81L77.84 567.89L78.26 566.16L76.63 565.82L77.97 563.48L74.76 564.18L75.94 561.95L73.66 562.03L75.21 559.57L72.21 560.12L73.60 557.76L71.31 557.84L71.62 556.21L70.16 555.77L71.27 553.71L68.22 554.22L69.14 552.31L67.19 552.09L68.46 550.03L66.04 550.00L67.65 547.73L65.02 547.82L66.40 545.68L63.87 545.71Z" fill="#0000f8"/>\n<path d="M86.1 591.0L87.5 594.5L88.9 591.0ZM146.1 592.0L147.5 595.0L148.9 592.0ZM206.1 591.5L207.5 594.5L208.9 591.5ZM299.1 591.5L300.5 594.5L301.9 591.5ZM356.2 592.0L357.6 595.5L359.0 592.0ZM416.9 592.0L418.3 595.0L419.7 592.0ZM115.2 532.0L116.6 529.0L118.0 532.0ZM175.1 532.0L176.5 529.0L177.9 532.0ZM265.7 531.0L267.1 528.5L268.5 531.0ZM325.4 532.0L326.8 529.0L328.2 532.0ZM385.8 532.0L387.2 529.0L388.6 532.0ZM446.2 532.0L447.6 529.0L449.0 532.0Z" fill="#0000f8"/>\n<path d="M264.6 421.9V652.3" stroke="#0000f8" stroke-width="1.3" fill="none" stroke-linejoin="round" stroke-linecap="butt"/>\n<path d="M264.4 490.3H308" stroke="#0000f8" stroke-width="1.5" fill="none" stroke-linejoin="round" stroke-linecap="round"/>\n<path d="M315.7 490.3L307.2 487.6L307.2 493Z" fill="#0000f8"/>\n<path d="M133.5 489.8H173.1" stroke="#e61212" stroke-width="1.5" fill="none" stroke-linejoin="round" stroke-linecap="round"/>\n<path d="M125.2 489.8L134.3 487L134.3 492.6Z" fill="#e61212"/></g><g clip-path="url(#cc)"><path d="M59.10 931.10C59.48 932.06 61.16 935.36 62.10 938.80C63.04 942.24 65.46 953.83 66.60 958.60C67.74 963.38 70.05 971.84 71.20 977.00C72.35 982.16 74.65 993.60 75.80 999.90C76.95 1006.20 79.59 1022.76 80.40 1027.40C81.21 1032.04 81.91 1035.28 82.30 1037.00C82.69 1038.72 83.08 1042.22 83.50 1041.20C83.92 1040.18 85.22 1031.74 85.69 1028.85C86.16 1025.95 86.77 1020.16 87.26 1018.04C87.75 1015.92 88.74 1013.99 89.60 1011.86C90.46 1009.74 93.01 1004.53 94.14 1001.06C95.28 997.58 97.55 989.09 98.68 984.07C99.82 979.05 102.26 966.61 103.22 960.91C104.18 955.22 105.61 944.12 106.35 938.52C107.09 932.93 108.50 921.35 109.17 916.14C109.83 910.92 110.97 900.50 111.67 896.84C112.37 893.17 114.17 886.28 114.80 886.80C115.43 887.32 116.30 897.75 116.67 901.00C117.05 904.26 117.47 911.02 117.80 912.84C118.13 914.65 118.78 915.03 119.30 915.52C119.82 916.01 121.13 915.93 121.92 916.78C122.72 917.63 124.64 919.94 125.67 922.30C126.71 924.67 129.10 931.77 130.18 935.72C131.25 939.66 133.27 949.13 134.30 953.86C135.33 958.60 137.39 968.50 138.43 973.59C139.46 978.68 141.66 990.04 142.55 994.58C143.44 999.11 144.80 1005.90 145.55 1009.88C146.30 1013.87 147.94 1023.10 148.55 1026.45C149.16 1029.81 149.96 1034.44 150.43 1036.71C150.89 1038.98 151.75 1045.21 152.30 1044.60C152.85 1043.99 154.26 1034.79 154.79 1031.79C155.33 1028.79 156.02 1022.79 156.57 1020.58C157.13 1018.38 158.26 1016.38 159.24 1014.18C160.22 1011.98 163.11 1006.58 164.40 1002.97C165.69 999.37 168.28 990.57 169.57 985.36C170.86 980.16 173.64 967.25 174.73 961.35C175.82 955.44 177.44 943.94 178.29 938.13C179.13 932.33 180.74 920.32 181.49 914.92C182.25 909.52 183.54 898.71 184.34 894.91C185.14 891.10 187.23 884.02 187.90 884.50C188.57 884.98 189.32 895.46 189.67 898.72C190.02 901.98 190.42 908.75 190.73 910.57C191.04 912.39 191.66 912.76 192.15 913.26C192.63 913.75 193.87 913.67 194.63 914.52C195.38 915.37 197.19 917.68 198.17 920.05C199.14 922.42 201.40 929.53 202.41 933.48C203.43 937.43 205.33 946.91 206.31 951.65C207.28 956.39 209.23 966.30 210.20 971.40C211.18 976.50 213.26 987.87 214.10 992.41C214.94 996.96 216.22 1003.75 216.93 1007.74C217.64 1011.73 219.18 1020.97 219.76 1024.33C220.34 1027.69 221.09 1032.33 221.53 1034.60C221.97 1036.87 222.76 1043.00 223.30 1042.50C223.84 1042.00 225.30 1033.42 225.84 1030.64C226.39 1027.86 227.09 1022.29 227.66 1020.25C228.22 1018.22 229.38 1016.36 230.38 1014.32C231.38 1012.28 234.33 1007.28 235.64 1003.94C236.96 1000.61 239.59 992.45 240.91 987.63C242.22 982.81 245.06 970.85 246.17 965.38C247.28 959.92 248.94 949.26 249.80 943.88C250.66 938.50 252.29 927.38 253.07 922.38C253.84 917.37 255.15 907.36 255.97 903.84C256.79 900.32 258.91 893.75 259.60 894.20C260.29 894.65 261.09 904.41 261.46 907.45C261.83 910.48 262.25 916.80 262.58 918.49C262.90 920.18 263.55 920.53 264.06 920.99C264.58 921.45 265.88 921.38 266.67 922.17C267.46 922.96 269.37 925.11 270.39 927.32C271.41 929.53 273.78 936.15 274.85 939.83C275.92 943.51 277.92 952.34 278.94 956.76C279.97 961.18 282.01 970.41 283.04 975.16C284.06 979.91 286.24 990.51 287.13 994.74C288.01 998.97 289.36 1005.30 290.10 1009.02C290.85 1012.73 292.48 1021.34 293.08 1024.47C293.68 1027.60 294.48 1031.92 294.94 1034.04C295.40 1036.16 296.27 1041.96 296.80 1041.40C297.33 1040.84 298.68 1032.32 299.19 1029.54C299.71 1026.76 300.37 1021.19 300.90 1019.16C301.44 1017.12 302.53 1015.26 303.47 1013.22C304.41 1011.18 307.19 1006.18 308.43 1002.84C309.67 999.51 312.15 991.35 313.39 986.53C314.63 981.71 317.30 969.75 318.35 964.28C319.39 958.82 320.95 948.16 321.77 942.78C322.58 937.40 324.12 926.28 324.84 921.28C325.57 916.27 326.81 906.26 327.58 902.74C328.35 899.22 330.34 892.63 331.00 893.10C331.66 893.57 332.50 903.45 332.88 906.53C333.26 909.61 333.68 916.00 334.01 917.72C334.34 919.43 335.00 919.79 335.51 920.25C336.03 920.72 337.35 920.65 338.14 921.45C338.94 922.25 340.87 924.43 341.90 926.67C342.94 928.91 345.33 935.62 346.42 939.35C347.50 943.08 349.52 952.03 350.55 956.51C351.59 960.99 353.65 970.35 354.69 975.16C355.72 979.97 357.93 990.71 358.82 995.00C359.72 999.29 361.08 1005.71 361.83 1009.48C362.58 1013.24 364.23 1021.97 364.84 1025.14C365.45 1028.31 366.25 1032.70 366.72 1034.84C367.19 1036.98 368.06 1042.87 368.60 1042.30C369.14 1041.73 370.50 1033.12 371.02 1030.31C371.53 1027.50 372.20 1021.88 372.74 1019.81C373.28 1017.75 374.38 1015.88 375.33 1013.82C376.28 1011.76 379.08 1006.70 380.33 1003.33C381.58 999.95 384.08 991.71 385.33 986.84C386.58 981.97 389.28 969.88 390.34 964.35C391.39 958.82 392.97 948.05 393.79 942.62C394.60 937.18 396.16 925.94 396.89 920.88C397.62 915.82 398.87 905.70 399.65 902.14C400.43 898.58 402.43 891.92 403.10 892.40C403.77 892.88 404.60 902.89 404.98 906.01C405.36 909.13 405.78 915.61 406.11 917.35C406.44 919.09 407.10 919.45 407.61 919.92C408.13 920.39 409.45 920.32 410.24 921.13C411.04 921.94 412.97 924.15 414.00 926.42C415.04 928.69 417.44 935.49 418.52 939.27C419.60 943.05 421.62 952.12 422.65 956.66C423.69 961.20 425.75 970.68 426.79 975.56C427.82 980.44 430.03 991.32 430.92 995.67C431.82 1000.02 433.18 1006.52 433.93 1010.34C434.68 1014.15 436.33 1023.00 436.94 1026.21C437.55 1029.42 438.35 1033.87 438.82 1036.04C439.29 1038.21 440.17 1044.16 440.70 1043.60C441.23 1043.04 442.53 1034.38 443.03 1031.55C443.53 1028.73 444.18 1023.08 444.70 1021.01C445.22 1018.94 446.28 1017.06 447.19 1014.99C448.11 1012.92 450.81 1007.83 452.02 1004.44C453.23 1001.06 455.64 992.77 456.85 987.88C458.06 982.98 460.66 970.84 461.68 965.29C462.70 959.73 464.22 948.91 465.01 943.45C465.80 937.99 467.30 926.70 468.01 921.61C468.71 916.53 469.92 906.37 470.67 902.79C471.42 899.21 473.58 894.22 474.00 893.00" stroke="#e61212" stroke-width="1.7" fill="none" stroke-linejoin="round" stroke-linecap="round"/>\n<path d="M59.10 951.00L62.00 957.00L66.60 964.80L74.30 975.50L81.90 984.60L84.20 990.70L85.70 996.20L87.00 990.00L88.80 984.60L92.60 970.90L98.70 960.20L104.90 952.50L111.00 946.40L114.00 940.30L116.80 923.80L118.50 928.00L120.10 931.10L124.70 938.80L130.30 951.00L136.30 962.00L142.40 971.00L148.40 979.50L152.20 986.00L153.50 991.00L154.60 998.20L156.00 992.00L158.60 986.60L164.40 975.10L171.60 963.60L177.40 954.90L183.10 949.20L186.00 943.40L189.20 923.80L191.30 928.00L196.00 938.00L201.60 951.30L207.00 962.00L213.00 972.00L218.00 979.00L221.50 985.00L223.80 991.00L225.40 998.20L227.00 992.00L229.50 986.00L235.80 975.00L241.00 965.50L247.20 955.80L253.00 948.50L257.50 944.00L259.50 939.00L261.40 925.30L263.30 929.00L266.00 933.00L271.00 945.00L277.40 958.50L284.00 968.50L290.00 977.00L294.50 983.00L297.00 989.00L298.80 996.20L300.50 990.00L303.00 985.00L309.30 973.00L313.50 965.00L318.40 956.50L323.00 950.00L328.70 944.50L331.00 938.00L333.30 925.30L335.50 930.00L341.30 938.00L346.50 950.00L352.70 962.00L358.00 971.00L364.10 979.00L367.50 985.00L369.50 990.00L371.20 996.70L373.00 991.00L375.00 986.00L379.00 976.00L384.00 966.00L390.00 956.00L395.00 950.00L400.90 945.00L403.00 938.00L405.30 926.30L407.50 930.00L414.00 942.00L420.00 954.00L427.10 966.00L432.00 973.00L438.10 980.00L440.50 986.00L442.00 991.00L443.30 997.70L445.00 991.00L447.00 986.00L451.20 976.00L457.00 965.00L463.20 956.00L465.40 952.00" stroke="#0000f8" stroke-width="4.0" fill="none" stroke-linecap="round" stroke-linejoin="miter" stroke-miterlimit="8"/>\n<path d="M56.98 952.03L58.01 952.64L57.81 953.84L58.93 954.41L58.49 955.75L59.58 956.36L59.34 957.65L60.73 958.07L60.58 959.33L61.83 959.80L61.19 961.35L62.58 961.69L62.46 962.92L63.86 963.27L63.73 964.55L64.67 965.18L64.61 966.45L65.87 966.84L65.99 968.02L67.21 968.41L66.80 969.93L68.40 970.01L67.99 971.54L69.47 971.71L69.55 972.88L70.70 973.28L70.22 974.87L71.77 975.01L71.72 976.33L73.12 976.54L73.24 977.75L74.36 978.16L74.28 979.55L75.61 979.75L75.73 980.95L76.89 981.28L77.03 982.47L78.12 982.86L78.19 984.06L79.32 984.31L79.50 985.25L80.55 985.64L79.87 986.98L81.22 987.33L80.66 988.53L81.91 989.11L81.00 990.46L82.41 991.00L81.62 992.26L82.85 992.89L82.19 994.09L83.67 994.89L83.53 996.76L85.81 997.94L87.81 996.46L87.64 994.72L89.06 993.82L88.30 992.66L89.29 991.91L88.76 990.79L89.98 990.14L89.07 988.87L90.28 988.25L89.71 987.00L91.00 986.35L90.37 985.09L91.71 984.42L91.15 983.20L92.23 982.44L91.51 981.21L92.58 980.47L91.95 979.25L92.89 978.48L92.76 977.40L93.46 976.56L93.09 975.42L94.29 974.71L93.66 973.56L94.49 972.87L94.19 971.78L95.40 971.32L94.97 970.11L96.44 969.86L96.12 968.56L96.95 967.88L97.06 966.79L98.06 966.21L98.01 965.03L99.14 964.53L98.83 963.22L100.16 962.92L99.76 961.54L101.20 961.38L100.95 960.05L102.19 959.80L102.22 958.59L103.27 958.15L103.35 956.94L104.68 956.72L104.82 955.57L105.75 955.09L105.87 953.92L107.30 953.92L107.24 952.55L108.59 952.52L108.68 951.22L109.74 950.87L110.13 949.84L111.67 949.77L111.62 948.24L113.01 947.91L112.84 946.46L113.86 945.78L113.86 944.53L115.37 944.12L114.74 942.62L116.20 942.01L115.62 940.65L116.53 939.78L116.09 938.55L117.35 937.67L116.25 936.47L117.30 935.64L116.77 934.53L117.81 933.69L117.14 932.57L118.29 931.75L117.54 930.60L118.60 929.77L117.80 928.62L118.92 927.80L117.92 926.68L118.78 926.27L117.91 925.78L116.15 926.43L115.89 926.21L115.06 927.36L116.47 927.67L116.23 928.91L117.31 929.55L117.25 930.76L118.16 931.47L117.73 932.88L119.17 933.24L119.38 934.30L120.41 934.87L120.43 936.02L121.26 936.69L121.16 937.90L122.34 938.32L121.91 939.66L123.34 939.98L123.17 941.15L124.16 941.74L123.54 943.10L125.10 943.49L124.92 944.67L125.68 945.42L125.25 946.72L126.54 947.22L126.03 948.56L127.51 948.98L126.89 950.40L128.26 950.89L128.10 952.10L129.35 952.62L129.24 953.83L130.27 954.44L130.08 955.68L131.04 956.30L130.76 957.59L132.03 958.03L131.54 959.44L133.06 959.75L132.65 961.14L133.94 961.59L133.99 962.77L135.05 963.33L134.84 964.69L136.30 964.97L136.30 966.20L137.46 966.62L137.09 968.07L138.57 968.28L138.31 969.67L139.75 969.90L139.18 971.51L140.83 971.60L140.69 972.92L141.93 973.28L141.67 974.69L143.17 974.86L142.68 976.44L144.35 976.48L143.90 978.02L145.47 978.13L145.46 979.32L146.40 979.86L146.09 981.21L147.42 981.51L147.32 982.71L148.38 983.21L148.45 984.33L149.62 984.75L148.90 986.13L150.32 986.45L149.98 987.55L151.05 988.12L150.23 989.28L151.41 989.95L150.83 991.06L151.89 991.83L151.50 992.88L152.19 993.74L151.26 994.88L152.63 995.71L151.89 997.12L153.09 998.36L155.51 1000.52L156.50 997.85L157.77 996.83L157.01 995.45L157.96 994.72L157.41 993.61L158.36 992.96L157.96 991.84L159.47 991.47L158.85 990.19L160.22 989.76L159.54 988.32L161.13 987.99L160.67 986.66L161.87 986.15L161.34 984.77L162.80 984.39L162.42 983.08L163.57 982.54L163.32 981.29L164.36 980.70L164.18 979.48L165.13 978.84L164.97 977.67L165.99 977.11L165.86 975.94L167.33 975.67L166.95 974.32L168.50 974.14L167.95 972.62L169.18 972.21L168.98 970.90L170.30 970.55L170.19 969.30L171.07 968.67L171.18 967.56L172.50 967.22L172.34 965.94L173.27 965.37L173.34 964.23L174.39 963.73L174.47 962.60L175.75 962.26L175.57 960.94L176.80 960.56L176.63 959.24L177.70 958.75L177.67 957.60L178.74 957.23L178.83 956.11L180.09 955.98L180.05 954.69L181.08 954.38L181.47 953.37L182.68 953.16L183.01 951.95L184.58 951.82L184.41 950.28L185.97 950.00L185.32 948.29L186.88 947.86L186.51 946.50L187.82 945.87L187.41 944.52L188.24 943.64L188.04 942.45L189.18 941.55L188.38 940.33L189.00 939.41L188.60 938.34L189.52 937.47L188.93 936.36L190.03 935.53L189.21 934.38L190.03 933.50L189.62 932.42L190.34 931.53L189.90 930.44L190.55 929.53L190.08 928.44L191.35 927.64L190.45 926.59L191.50 926.42L190.10 925.72L188.48 926.80L188.63 926.28L188.18 927.30L189.34 927.70L188.76 929.08L190.16 929.51L189.47 930.93L191.10 931.26L190.66 932.57L191.70 933.18L191.34 934.46L192.58 934.98L192.20 936.26L193.58 936.71L192.84 938.13L194.48 938.47L193.78 939.86L195.25 940.30L194.73 941.59L195.82 942.21L195.54 943.42L196.51 944.09L196.27 945.28L197.30 945.93L197.29 947.02L198.15 947.74L197.64 949.04L198.95 949.58L198.85 950.74L199.84 951.42L199.07 952.90L200.70 953.27L200.19 954.66L201.47 955.15L200.94 956.54L202.51 956.87L202.29 958.10L203.23 958.75L203.27 959.85L204.20 960.51L203.76 961.89L205.22 962.28L204.68 963.74L206.25 964.04L205.81 965.49L207.38 965.73L207.18 967.02L208.26 967.54L207.81 968.97L209.38 969.20L209.20 970.47L210.34 970.98L209.82 972.52L211.54 972.63L211.28 974.04L212.66 974.34L212.38 975.79L213.86 975.97L213.88 977.19L214.92 977.67L214.97 978.82L215.95 979.32L215.72 980.62L217.04 980.93L216.74 982.24L217.95 982.65L217.51 984.05L219.08 984.25L218.68 985.52L219.98 985.92L219.75 987.06L220.76 987.66L220.51 988.79L221.26 989.54L221.01 990.63L222.01 991.30L221.73 992.37L222.36 993.18L222.07 994.23L222.87 995.06L222.05 996.36L223.44 997.31L223.44 999.66L226.27 999.34L228.07 998.12L227.61 996.41L228.60 995.53L228.01 994.38L229.54 993.85L228.57 992.55L230.02 992.05L229.37 990.80L230.39 990.18L230.08 988.99L231.03 988.36L230.73 987.16L232.10 986.77L231.77 985.53L233.33 985.30L232.81 983.88L233.94 983.38L233.68 982.08L235.12 981.75L234.86 980.45L235.90 979.89L235.67 978.61L237.27 978.36L236.61 976.83L238.04 976.48L237.83 975.21L238.87 974.63L238.69 973.39L240.04 972.98L239.71 971.66L240.77 971.10L240.67 969.91L241.62 969.29L241.48 968.09L242.50 967.55L242.38 966.35L244.00 966.18L243.63 964.81L245.01 964.53L244.73 963.17L245.68 962.59L245.64 961.37L246.90 960.99L246.80 959.74L247.83 959.24L247.90 958.13L248.95 957.68L248.92 956.48L250.23 956.25L250.11 954.94L251.54 954.82L251.27 953.33L252.66 953.16L252.61 951.85L253.75 951.54L253.80 950.33L255.23 950.31L254.98 948.79L256.34 948.76L256.55 947.61L257.99 947.43L258.00 945.94L259.69 945.76L259.20 944.11L260.69 943.61L260.19 942.09L261.68 941.43L260.98 940.07L262.28 939.29L261.41 937.98L262.10 937.00L261.63 935.87L263.03 935.06L261.86 933.89L262.84 933.01L262.31 931.93L262.97 931.01L262.37 929.92L263.62 929.08L262.61 928.04L263.59 927.78L262.28 927.10L260.64 928.46L260.93 927.74L260.35 928.95L261.44 929.38L261.48 930.56L262.68 931.04L262.37 932.42L263.78 932.67L263.19 934.08L264.56 934.38L264.40 935.49L265.53 936.01L264.72 937.40L266.15 937.89L265.84 939.10L266.92 939.74L266.84 940.86L267.58 941.63L267.23 942.86L268.41 943.46L267.90 944.78L269.27 945.30L268.77 946.63L270.17 947.11L269.58 948.51L270.99 948.96L270.92 950.10L271.92 950.73L271.44 952.07L272.82 952.52L272.17 953.93L273.62 954.35L273.18 955.67L274.32 956.24L273.95 957.56L275.20 958.11L275.14 959.33L276.24 959.91L275.98 961.29L277.30 961.70L277.23 962.96L278.62 963.25L278.47 964.54L279.65 964.97L279.60 966.19L280.74 966.64L280.25 968.18L281.77 968.38L281.88 969.52L282.92 970.03L282.93 971.25L284.03 971.72L284.17 972.85L285.22 973.33L284.89 974.79L286.43 974.93L286.23 976.30L287.62 976.55L287.66 977.76L288.77 978.20L288.46 979.69L290.00 979.80L289.84 981.18L291.17 981.44L290.92 982.77L292.39 982.87L292.40 983.94L293.38 984.43L292.86 985.72L294.09 986.16L293.86 987.31L294.70 988.00L294.56 989.06L295.48 989.75L295.04 990.88L295.85 991.64L295.26 992.78L296.35 993.54L295.58 995.03L297.06 996.01L298.18 998.48L300.17 996.53L301.86 995.58L301.20 993.95L302.30 993.23L301.86 992.12L302.85 991.49L302.28 990.28L303.43 989.76L303.05 988.56L304.03 987.97L304.16 986.93L304.98 986.23L305.01 985.13L305.87 984.45L305.78 983.29L306.79 982.69L306.80 981.57L307.73 980.92L307.82 979.84L308.94 979.30L308.74 978.07L310.15 977.68L309.48 976.20L311.14 975.94L310.45 974.45L311.92 974.09L311.38 972.68L313.00 972.40L312.47 970.99L313.50 970.40L313.21 969.12L314.56 968.70L314.26 967.43L315.39 966.92L315.23 965.71L316.48 965.28L316.24 964.01L317.57 963.63L317.05 962.18L318.10 961.63L318.16 960.51L319.54 960.17L318.99 958.72L320.55 958.55L320.08 957.10L321.62 956.97L321.17 955.49L322.41 955.16L322.47 953.98L323.45 953.49L323.57 952.41L324.75 952.17L324.71 950.92L325.98 950.82L325.87 949.42L327.26 949.45L327.43 948.19L329.00 948.22L329.01 946.65L330.49 946.32L330.38 944.89L331.43 944.14L331.07 942.73L332.28 942.03L331.92 940.81L332.82 939.99L332.54 938.81L333.93 938.08L332.83 936.74L334.38 935.97L333.40 934.75L334.72 933.97L333.61 932.75L334.47 931.89L334.01 930.79L334.78 929.92L334.26 928.81L335.08 928.14L334.70 927.47L334.31 927.99L332.82 927.34L332.10 928.28L332.95 928.56L332.66 929.84L333.92 930.36L333.31 931.96L334.85 932.26L334.64 933.70L336.17 933.87L335.75 935.42L337.24 935.57L336.97 937.01L338.39 937.15L338.39 938.26L339.62 938.58L339.26 939.83L340.42 940.27L340.03 941.47L341.14 942.05L340.85 943.26L341.95 943.87L341.48 945.17L342.65 945.75L342.28 947.00L343.40 947.61L343.40 948.71L344.50 949.34L344.12 950.64L345.21 951.26L345.12 952.44L346.25 953.01L345.70 954.43L346.91 954.93L346.56 956.24L348.03 956.61L347.93 957.79L348.78 958.47L348.89 959.54L349.80 960.20L349.69 961.40L350.61 962.07L350.12 963.50L351.79 963.74L351.42 965.12L352.90 965.44L352.57 966.79L353.89 967.18L353.28 968.70L354.81 968.96L354.50 970.34L355.76 970.78L355.81 972.00L357.01 972.44L356.71 973.93L358.32 974.04L358.11 975.47L359.50 975.67L359.30 977.08L360.67 977.29L360.49 978.64L361.70 978.93L361.37 980.31L362.80 980.50L362.33 981.91L363.93 982.06L363.84 983.24L364.72 983.86L364.51 985.05L365.82 985.45L365.56 986.63L366.38 987.30L366.22 988.39L367.27 988.99L366.97 990.11L368.03 990.76L367.24 992.00L368.51 992.63L367.89 993.79L368.84 994.65L368.41 996.28L370.05 997.35L372.19 998.57L373.17 996.43L374.10 995.30L373.77 993.99L375.30 993.47L374.37 992.12L375.45 991.48L375.10 990.31L375.98 989.60L375.77 988.46L377.34 988.01L376.47 986.58L377.88 986.07L377.26 984.74L378.52 984.17L378.17 982.96L379.55 982.43L378.74 981.03L379.92 980.42L379.48 979.18L380.53 978.56L380.32 977.41L381.19 976.73L381.19 975.67L382.25 975.10L381.94 973.86L383.00 973.27L382.92 972.11L383.82 971.44L383.74 970.28L384.99 969.79L384.66 968.53L385.59 967.92L385.42 966.72L386.80 966.38L386.64 965.16L388.01 964.84L387.66 963.47L389.17 963.21L388.47 961.62L389.58 961.12L389.77 960.07L390.75 959.52L390.52 958.26L392.01 958.12L391.67 956.73L392.95 956.51L392.79 955.18L394.42 955.27L394.06 953.67L395.53 953.65L395.34 952.23L396.88 952.40L396.58 950.79L397.76 950.67L398.19 949.73L399.45 949.71L399.67 948.42L401.35 948.50L401.46 946.94L403.24 946.76L402.76 945.07L403.99 944.31L403.50 942.83L404.57 942.08L403.85 940.81L405.40 940.17L404.59 938.88L405.78 938.11L404.85 936.83L406.06 936.03L405.54 934.89L406.09 933.98L405.86 932.92L406.99 932.12L406.26 930.96L407.43 930.17L406.61 929.14L407.50 929.07L406.07 928.24L404.81 929.24L404.86 928.95L404.53 929.91L405.72 930.23L405.14 931.69L406.59 932.00L406.28 933.30L407.46 933.79L407.55 934.88L408.50 935.50L408.09 936.86L409.37 937.30L409.02 938.63L410.43 939.00L410.43 940.14L411.44 940.72L410.96 942.10L412.27 942.52L412.04 943.76L413.29 944.23L413.13 945.42L414.22 945.99L413.68 947.37L415.05 947.81L414.37 949.26L415.76 949.69L415.48 950.94L416.78 951.42L416.47 952.69L417.73 953.20L417.11 954.69L418.52 955.09L418.22 956.44L419.63 956.81L419.35 958.16L420.77 958.48L420.62 959.73L421.79 960.20L421.14 961.74L422.57 962.06L422.24 963.42L423.80 963.66L423.28 965.14L424.63 965.52L424.83 966.61L425.90 967.14L425.50 968.64L427.01 968.86L427.07 970.06L428.03 970.61L427.99 971.85L429.22 972.24L429.22 973.53L430.48 973.88L430.33 975.32L431.90 975.37L432.10 976.56L433.11 977.02L433.10 978.36L434.42 978.53L434.28 979.88L435.75 979.84L435.44 981.12L436.78 981.30L436.06 982.67L437.49 982.96L436.72 984.29L438.05 984.81L437.44 986.07L438.81 986.60L437.95 987.91L439.36 988.47L438.94 989.58L439.99 990.29L439.42 991.43L440.48 992.17L440.01 993.26L440.69 994.10L440.32 995.19L441.29 996.19L440.70 998.15L443.17 999.26L445.47 998.19L445.50 996.43L446.47 995.45L445.91 994.27L446.76 993.51L446.40 992.41L447.54 991.77L447.01 990.59L448.51 990.13L447.79 988.83L448.75 988.15L448.42 986.94L449.34 986.24L449.30 985.15L450.11 984.41L449.93 983.25L451.29 982.74L450.75 981.43L451.80 980.78L451.68 979.65L453.10 979.20L452.18 977.74L453.67 977.35L453.09 976.01L454.39 975.57L453.94 974.25L454.96 973.66L454.98 972.54L455.95 971.92L455.85 970.74L457.04 970.23L456.98 969.07L457.93 968.47L457.82 967.31L459.00 966.89L458.69 965.58L460.01 965.29L459.87 964.05L461.23 963.80L460.83 962.31L462.20 962.04L462.01 960.69L463.26 960.34L463.13 959.02L464.73 958.84L464.27 957.31L465.51 956.87L465.42 955.61L466.63 955.11L466.51 953.87L467.95 953.52L466.94 952.85L463.05 950.71L463.88 951.28L462.73 951.80L462.78 952.94L461.94 953.58L461.99 954.73L460.66 955.04L460.93 956.36L459.68 956.68L459.70 957.89L458.61 958.35L458.74 959.65L457.53 960.04L457.43 961.19L456.25 961.62L456.35 962.94L454.90 963.25L455.09 964.59L454.16 965.25L454.13 966.42L452.74 966.83L453.17 968.19L452.01 968.71L452.34 970.02L451.04 970.46L451.47 971.82L450.47 972.43L450.49 973.60L449.44 974.23L449.44 975.37L448.23 975.95L448.64 977.26L447.83 978.03L447.93 979.16L446.95 979.83L447.13 980.99L445.77 981.50L446.47 982.88L445.54 983.59L445.62 984.71L444.50 985.33L444.80 986.54L443.71 987.19L444.15 988.48L442.66 989.06L443.45 990.44L442.27 991.16L442.75 992.39L441.81 993.23L442.43 994.41L441.64 994.99L442.21 995.79L443.50 995.04L444.46 995.86L445.78 994.85L444.52 994.37L445.25 993.20L444.14 992.37L445.07 991.10L443.52 990.41L444.02 989.21L443.15 988.38L443.56 987.14L442.29 986.47L443.13 985.10L441.78 984.48L442.29 983.19L440.98 982.59L441.18 981.36L440.20 980.59L440.63 979.09L439.12 978.71L438.98 977.46L437.65 977.09L437.56 975.79L436.44 975.45L436.35 974.20L435.21 973.87L435.16 972.65L433.77 972.55L434.05 971.10L432.59 971.01L432.58 969.82L431.65 969.29L431.60 968.11L430.44 967.69L430.28 966.61L429.30 966.10L429.73 964.65L428.09 964.55L428.25 963.31L427.22 962.79L427.76 961.31L426.08 961.14L426.56 959.70L425.17 959.36L425.48 958.02L424.11 957.66L424.57 956.23L423.25 955.85L423.64 954.49L422.24 954.17L422.66 952.82L421.18 952.52L421.63 951.18L420.30 950.77L420.54 949.53L419.30 949.04L419.97 947.58L418.50 947.20L419.00 945.83L417.73 945.35L417.81 944.19L416.79 943.58L417.11 942.28L415.73 941.85L416.41 940.36L414.92 940.00L414.96 938.83L414.02 938.19L414.32 936.90L413.11 936.41L413.24 935.21L411.91 934.79L412.66 933.24L411.09 932.96L411.25 931.73L410.03 931.25L410.16 930.02L409.18 929.41L409.69 927.95L408.10 927.60L408.22 925.59L406.13 925.29L404.12 924.63L403.51 926.79L402.20 927.89L402.93 929.28L401.95 930.11L402.72 931.28L401.34 932.03L402.25 933.23L401.29 934.06L401.90 935.18L400.79 935.93L401.29 937.04L400.26 937.77L401.00 938.97L400.04 939.70L400.30 940.80L399.47 941.57L399.71 942.50L399.06 943.06L399.47 944.21L398.23 944.25L398.14 945.26L396.64 944.85L396.71 946.47L395.48 946.61L395.06 947.73L393.77 947.90L393.60 949.22L392.21 949.37L392.25 950.82L391.02 951.14L390.79 952.24L389.58 952.59L389.43 953.81L387.99 954.06L388.16 955.48L387.03 955.99L387.19 957.34L385.60 957.57L386.14 959.06L385.19 959.65L385.20 960.83L383.82 961.16L384.10 962.50L382.87 962.96L383.12 964.29L382.00 964.84L381.92 965.96L381.08 966.68L381.00 967.79L379.72 968.27L380.13 969.60L378.70 970.00L379.21 971.37L377.83 971.80L378.34 973.20L377.04 973.72L377.45 975.04L375.97 975.51L376.60 976.91L375.87 977.72L375.87 978.80L374.91 979.50L375.36 980.76L374.20 981.37L374.59 982.60L373.38 983.19L373.86 984.46L372.59 985.03L372.92 986.24L372.17 987.02L372.14 988.10L370.76 988.67L371.50 990.04L370.54 990.79L371.00 992.03L370.00 992.78L370.24 993.78L369.54 994.02L370.65 994.69L372.78 993.88L372.25 994.41L373.29 993.35L371.95 992.76L372.71 991.49L371.34 990.79L372.40 989.37L370.76 988.81L371.29 987.51L369.98 986.88L370.73 985.41L369.20 984.95L369.70 983.55L368.44 983.01L368.37 981.86L367.34 981.26L367.81 979.81L366.49 979.37L366.57 978.08L365.29 977.67L365.66 976.13L363.89 976.12L363.93 974.80L362.80 974.41L362.66 973.26L361.60 972.81L361.52 971.63L360.42 971.25L360.48 970.04L359.37 969.64L359.41 968.47L358.39 967.98L358.56 966.75L357.24 966.37L357.30 965.17L356.28 964.61L356.71 963.19L355.31 962.88L355.49 961.65L354.39 961.14L354.32 960.06L353.47 959.40L353.53 958.27L352.43 957.71L352.64 956.48L351.51 955.94L351.82 954.65L350.48 954.22L350.60 953.03L349.62 952.41L349.86 951.17L348.85 950.59L349.45 949.21L347.95 948.85L348.17 947.67L347.07 947.09L347.80 945.70L346.37 945.23L346.65 944.02L345.46 943.45L346.27 942.00L344.82 941.54L345.05 940.35L343.84 939.77L344.54 938.24L343.22 937.70L343.59 936.25L341.91 936.02L342.37 934.41L340.65 934.33L340.68 933.08L339.58 932.64L339.67 931.34L338.47 931.00L338.28 930.00L337.16 929.61L337.87 928.11L336.38 927.88L336.72 926.57L335.35 925.88L334.76 923.93L332.57 924.02L330.58 925.16L331.21 927.08L330.27 928.08L330.67 929.17L329.63 930.00L330.38 931.15L329.58 932.02L330.27 933.16L329.11 933.97L329.75 935.08L328.94 935.88L329.52 936.99L328.24 937.62L328.92 938.80L327.69 939.39L328.29 940.62L327.16 941.18L327.63 942.30L326.91 942.85L326.89 943.81L325.56 943.82L325.56 944.92L324.50 945.16L324.22 946.31L322.99 946.53L322.69 947.73L321.39 947.99L321.33 949.34L319.78 949.47L320.18 951.11L318.90 951.46L318.94 952.71L317.45 952.91L317.83 954.43L316.49 954.77L316.54 956.03L315.45 956.58L315.71 957.93L314.35 958.31L314.71 959.67L313.32 960.03L313.56 961.32L312.24 961.73L312.58 963.09L311.05 963.40L311.75 964.94L310.27 965.29L310.66 966.65L309.59 967.22L309.71 968.41L308.72 969.02L308.90 970.24L307.48 970.63L307.83 971.94L306.74 972.50L306.97 973.75L305.47 974.09L305.93 975.46L304.65 975.92L305.13 977.30L303.58 977.62L304.02 978.98L302.84 979.49L303.27 980.84L301.70 981.15L302.21 982.56L300.90 983.01L301.45 984.42L300.27 984.95L300.52 986.21L299.14 986.70L299.59 988.08L298.04 988.60L298.81 990.03L297.68 990.77L298.30 992.07L296.67 992.64L297.81 993.78L296.98 993.41L299.18 994.21L300.78 993.58L299.84 993.54L300.92 992.40L299.37 991.75L300.21 990.46L298.90 989.74L299.43 988.47L298.40 987.71L298.89 986.40L297.62 985.77L297.81 984.57L296.81 983.83L297.42 982.29L295.85 981.92L295.96 980.58L294.66 980.13L294.60 978.86L293.25 978.62L293.42 977.26L292.24 976.90L292.31 975.62L291.10 975.27L291.00 974.13L289.85 973.73L290.06 972.37L288.74 972.07L288.85 970.77L287.43 970.55L287.87 969.02L286.41 968.84L286.82 967.35L285.28 967.21L285.66 965.76L284.05 965.64L284.15 964.39L282.94 963.99L283.34 962.53L282.08 962.16L281.91 961.08L280.92 960.53L281.06 959.26L279.65 959.03L280.11 957.65L278.86 957.28L279.25 956.00L277.84 955.65L278.31 954.34L277.01 953.85L277.36 952.58L276.16 952.04L276.44 950.80L275.30 950.24L275.67 948.95L274.60 948.36L274.66 947.22L273.78 946.54L273.91 945.39L272.96 944.74L273.07 943.62L271.92 943.05L272.62 941.68L271.26 941.18L272.04 939.77L270.50 939.33L271.05 938.02L269.78 937.46L270.09 936.25L269.05 935.60L269.52 934.28L268.03 933.78L268.60 932.30L267.34 931.77L267.49 930.44L266.08 930.08L266.00 928.95L265.10 928.38L265.14 927.25L264.07 926.65L264.33 924.71L262.29 924.14L260.01 923.81L259.74 926.08L258.49 927.19L259.22 928.47L258.43 929.37L258.95 930.45L257.71 931.29L258.57 932.42L257.29 933.25L258.37 934.41L257.06 935.24L258.04 936.34L256.78 937.03L257.80 938.18L256.55 938.77L257.16 939.91L255.78 940.33L256.57 941.56L255.25 941.79L255.89 943.17L254.72 943.36L254.58 944.36L253.21 944.27L253.30 945.81L251.72 945.75L251.87 947.30L250.39 947.39L250.41 948.76L249.18 949.11L249.18 950.39L247.64 950.45L247.97 951.99L246.92 952.46L246.80 953.67L245.28 953.83L245.39 955.18L244.45 955.80L244.38 956.99L242.98 957.30L243.42 958.77L242.05 959.08L242.24 960.39L241.15 960.88L241.13 962.05L239.91 962.50L240.07 963.80L238.75 964.20L239.14 965.61L237.63 965.93L238.05 967.34L236.59 967.68L237.15 969.12L236.03 969.65L236.24 970.90L235.15 971.45L235.10 972.55L233.99 973.07L234.30 974.38L232.93 974.75L233.24 976.07L231.61 976.28L232.12 977.73L231.09 978.29L231.20 979.50L230.11 980.04L230.27 981.28L229.01 981.71L229.30 983.05L227.89 983.47L228.25 984.83L227.15 985.45L227.27 986.66L226.04 987.26L226.66 988.63L225.51 989.29L225.72 990.50L224.69 991.25L224.96 992.44L223.96 993.24L224.62 994.50L223.19 994.99L224.29 996.07L224.22 995.33L226.46 996.25L227.65 995.52L226.46 995.23L227.01 994.14L226.17 993.29L226.40 992.15L225.62 991.28L226.24 990.00L225.08 989.27L225.39 988.04L224.13 987.40L224.51 986.13L223.57 985.38L224.10 983.97L222.67 983.50L222.79 982.24L221.60 981.69L222.14 980.21L220.52 979.97L220.56 978.74L219.66 978.09L219.87 976.71L218.33 976.51L218.72 974.97L217.11 974.89L217.56 973.33L215.87 973.31L215.96 972.06L214.82 971.67L215.33 970.17L213.93 969.91L214.31 968.54L212.86 968.27L212.88 967.10L211.71 966.63L212.21 965.17L210.83 964.83L210.86 963.64L209.84 963.11L209.77 962.02L208.62 961.55L209.06 960.20L207.91 959.71L207.83 958.65L206.97 957.98L207.15 956.77L205.94 956.26L206.58 954.82L205.17 954.41L205.35 953.19L204.13 952.71L204.45 951.46L203.42 950.87L203.98 949.54L202.61 949.09L203.15 947.79L201.82 947.28L202.18 946.04L201.02 945.45L201.54 944.14L200.16 943.64L200.38 942.46L199.58 941.72L199.63 940.61L198.64 939.94L199.21 938.59L197.90 938.05L198.31 936.76L196.98 936.25L197.70 934.80L196.14 934.41L196.79 933.00L195.43 932.54L195.66 931.32L194.37 930.82L194.76 929.53L193.73 928.90L194.35 927.49L192.72 927.16L192.89 925.95L191.75 925.30L191.87 923.50L190.04 922.78L187.79 922.19L187.41 924.49L186.30 925.63L186.85 926.90L186.03 927.78L186.52 928.88L185.81 929.77L186.42 930.89L185.39 931.73L185.96 932.84L185.04 933.70L185.64 934.81L184.47 935.63L185.44 936.81L184.50 937.67L185.05 938.77L184.12 939.63L184.77 940.70L183.82 941.41L184.34 942.47L183.06 942.97L183.74 944.17L182.59 944.64L182.86 945.83L181.50 946.09L181.93 947.37L181.12 947.87L181.05 948.94L179.68 948.93L179.75 950.23L178.13 950.02L178.22 951.53L176.78 951.64L176.85 953.15L175.53 953.42L175.47 954.73L174.40 955.26L174.33 956.50L172.82 956.70L173.06 958.06L172.12 958.64L172.15 959.86L170.99 960.29L170.81 961.39L169.75 961.90L169.91 963.21L168.56 963.54L168.78 964.88L167.66 965.36L167.74 966.59L166.23 966.82L166.64 968.26L165.27 968.58L165.53 969.93L164.21 970.28L164.48 971.63L163.22 972.06L163.45 973.40L162.44 974.01L162.53 975.24L161.24 975.72L161.36 976.94L160.47 977.61L160.64 978.82L159.23 979.23L159.76 980.61L158.66 981.18L158.73 982.34L157.72 982.95L157.78 984.11L156.78 984.73L157.10 986.01L155.97 986.58L156.20 987.81L155.05 988.38L155.29 989.67L153.79 990.23L154.37 991.59L153.27 992.37L153.95 993.68L153.09 994.56L153.52 995.58L152.73 995.92L154.14 996.50L156.71 995.93L156.16 995.93L156.67 995.03L155.67 994.21L156.69 993.02L155.33 992.20L156.11 990.99L155.15 990.14L155.58 988.98L154.63 988.11L155.29 986.74L153.95 986.05L154.25 984.76L153.08 984.09L153.33 982.73L152.13 982.18L152.38 980.87L150.97 980.52L150.92 979.35L150.00 978.71L150.14 977.39L148.82 977.03L148.84 975.77L147.56 975.44L147.80 974.04L146.55 973.70L146.63 972.42L145.41 972.06L145.63 970.70L144.14 970.52L144.02 969.40L142.93 968.94L143.15 967.59L141.82 967.29L142.35 965.72L140.88 965.50L141.23 964.06L139.59 963.97L139.86 962.60L138.68 962.22L138.81 961.00L137.67 960.57L138.05 959.23L136.60 958.94L137.04 957.58L135.64 957.20L135.68 956.04L134.65 955.46L134.99 954.14L133.87 953.61L133.82 952.50L132.79 951.95L132.81 950.83L131.81 950.24L132.13 949.00L131.08 948.42L131.41 947.19L130.18 946.66L130.28 945.51L129.30 944.86L130.04 943.42L128.52 943.02L129.19 941.61L127.60 941.24L127.89 939.98L126.88 939.31L126.89 938.15L125.84 937.53L125.93 936.30L124.76 935.78L124.99 934.47L123.83 933.99L123.91 932.78L122.79 932.29L123.08 930.99L121.76 930.62L122.33 929.20L120.77 928.95L121.10 927.73L120.13 927.13L120.56 925.88L119.27 925.26L119.34 923.59L117.53 922.58L114.90 922.29L115.03 924.76L113.94 925.83L114.41 927.03L113.35 927.87L114.06 929.00L112.77 929.80L113.81 930.99L112.45 931.77L113.35 932.94L112.72 933.84L113.09 934.92L112.49 935.83L112.97 936.93L111.72 937.62L112.65 938.76L111.40 939.32L112.11 940.50L110.59 940.86L111.26 942.14L109.81 942.52L110.34 943.80L108.91 943.95L109.55 945.42L108.38 945.63L108.32 946.74L106.88 946.60L106.89 948.02L105.73 948.27L105.46 949.44L104.15 949.62L103.91 950.81L102.70 951.13L102.77 952.55L101.61 952.94L101.53 954.18L100.17 954.38L100.23 955.70L98.80 955.84L98.93 957.26L97.22 957.29L97.57 958.85L96.51 959.40L96.48 960.63L95.32 961.16L95.39 962.38L94.49 963.02L94.51 964.18L93.05 964.51L93.53 965.93L92.22 966.34L92.54 967.69L90.89 968.05L91.27 969.44L89.97 970.07L90.54 971.46L89.72 972.33L90.01 973.53L89.23 974.35L89.65 975.50L88.46 976.21L88.87 977.36L88.15 978.20L88.61 979.36L87.53 980.10L88.04 981.28L86.75 981.94L87.55 983.19L86.66 983.95L86.76 985.01L85.82 985.74L86.23 986.92L84.96 987.61L85.64 988.90L84.62 989.70L85.12 990.89L83.63 991.62L84.62 992.89L83.27 993.30L84.42 994.21L85.56 993.82L86.86 994.14L87.29 993.45L86.59 992.86L87.39 991.56L86.15 990.85L86.40 989.68L85.39 988.94L85.92 987.65L84.52 987.08L85.42 985.54L83.84 985.02L84.18 983.59L82.79 983.14L82.64 981.90L81.45 981.41L81.75 979.83L80.27 979.77L80.29 978.44L78.87 978.32L79.08 976.85L77.62 976.76L77.96 975.22L76.47 975.18L76.36 974.02L75.19 973.70L75.21 972.46L73.91 972.20L73.96 970.94L72.85 970.50L73.12 969.08L71.61 968.94L72.05 967.38L70.59 967.20L70.47 966.05L69.48 965.57L69.50 964.37L68.20 964.08L68.72 962.60L67.11 962.46L67.38 961.17L66.31 960.65L66.34 959.47L65.16 959.01L65.61 957.61L64.32 957.23L64.29 956.14L63.37 955.53L63.52 954.37L62.48 953.80L62.77 952.56L61.45 952.09L61.88 950.77L60.61 950.27Z" fill="#0000f8"/>\n<path d="M155 932.1H179.9" stroke="#e61212" stroke-width="1.5" fill="none" stroke-linejoin="round" stroke-linecap="round"/>\n<path d="M147.6 932.1L156.2 929.6L156.2 934.6Z" fill="#e61212"/>\n<path d="M337.8 934.2H362" stroke="#0000f8" stroke-width="1.5" fill="none" stroke-linejoin="round" stroke-linecap="round"/>\n<path d="M368.6 934.2L360.8 931.6L360.8 936.8Z" fill="#0000f8"/></g>
<rect x="59.5" y="4.3" width="410.0" height="329.2" fill="none" stroke="#000" stroke-width="1.6"/>
<path d="M59.50 333.5v-5.7M59.50 4.3v5.7M69.75 333.5v-3.0M69.75 4.3v3.0M80.00 333.5v-3.0M80.00 4.3v3.0M90.25 333.5v-3.0M90.25 4.3v3.0M100.50 333.5v-5.7M100.50 4.3v5.7M110.75 333.5v-3.0M110.75 4.3v3.0M121.00 333.5v-3.0M121.00 4.3v3.0M131.25 333.5v-3.0M131.25 4.3v3.0M141.50 333.5v-5.7M141.50 4.3v5.7M151.75 333.5v-3.0M151.75 4.3v3.0M162.00 333.5v-3.0M162.00 4.3v3.0M172.25 333.5v-3.0M172.25 4.3v3.0M182.50 333.5v-5.7M182.50 4.3v5.7M192.75 333.5v-3.0M192.75 4.3v3.0M203.00 333.5v-3.0M203.00 4.3v3.0M213.25 333.5v-3.0M213.25 4.3v3.0M223.50 333.5v-5.7M223.50 4.3v5.7M233.75 333.5v-3.0M233.75 4.3v3.0M244.00 333.5v-3.0M244.00 4.3v3.0M254.25 333.5v-3.0M254.25 4.3v3.0M264.50 333.5v-5.7M264.50 4.3v5.7M274.75 333.5v-3.0M274.75 4.3v3.0M285.00 333.5v-3.0M285.00 4.3v3.0M295.25 333.5v-3.0M295.25 4.3v3.0M305.50 333.5v-5.7M305.50 4.3v5.7M315.75 333.5v-3.0M315.75 4.3v3.0M326.00 333.5v-3.0M326.00 4.3v3.0M336.25 333.5v-3.0M336.25 4.3v3.0M346.50 333.5v-5.7M346.50 4.3v5.7M356.75 333.5v-3.0M356.75 4.3v3.0M367.00 333.5v-3.0M367.00 4.3v3.0M377.25 333.5v-3.0M377.25 4.3v3.0M387.50 333.5v-5.7M387.50 4.3v5.7M397.75 333.5v-3.0M397.75 4.3v3.0M408.00 333.5v-3.0M408.00 4.3v3.0M418.25 333.5v-3.0M418.25 4.3v3.0M428.50 333.5v-5.7M428.50 4.3v5.7M438.75 333.5v-3.0M438.75 4.3v3.0M449.00 333.5v-3.0M449.00 4.3v3.0M459.25 333.5v-3.0M459.25 4.3v3.0M469.50 333.5v-5.7M469.50 4.3v5.7M59.5 333.50h3.0M59.5 328.01h3.0M59.5 322.53h5.7M59.5 317.04h3.0M59.5 311.55h3.0M59.5 306.07h3.0M59.5 300.58h5.7M59.5 295.09h3.0M59.5 289.61h3.0M59.5 284.12h3.0M59.5 278.63h5.7M59.5 273.15h3.0M59.5 267.66h3.0M59.5 262.17h3.0M59.5 256.69h5.7M59.5 251.20h3.0M59.5 245.71h3.0M59.5 240.23h3.0M59.5 234.74h5.7M59.5 229.25h3.0M59.5 223.77h3.0M59.5 218.28h3.0M59.5 212.79h5.7M59.5 207.31h3.0M59.5 201.82h3.0M59.5 196.33h3.0M59.5 190.85h5.7M59.5 185.36h3.0M59.5 179.87h3.0M59.5 174.39h3.0M59.5 168.90h5.7M59.5 163.41h3.0M59.5 157.93h3.0M59.5 152.44h3.0M59.5 146.95h5.7M59.5 141.47h3.0M59.5 135.98h3.0M59.5 130.49h3.0M59.5 125.01h5.7M59.5 119.52h3.0M59.5 114.03h3.0M59.5 108.55h3.0M59.5 103.06h5.7M59.5 97.57h3.0M59.5 92.09h3.0M59.5 86.60h3.0M59.5 81.11h5.7M59.5 75.63h3.0M59.5 70.14h3.0M59.5 64.65h3.0M59.5 59.17h5.7M59.5 53.68h3.0M59.5 48.19h3.0M59.5 42.71h3.0M59.5 37.22h5.7M59.5 31.73h3.0M59.5 26.25h3.0M59.5 20.76h3.0M59.5 15.27h5.7M59.5 9.79h3.0M59.5 4.30h3.0M469.5 333.50h-5.7M469.5 326.64h-3.0M469.5 319.78h-3.0M469.5 312.93h-3.0M469.5 306.07h-5.7M469.5 299.21h-3.0M469.5 292.35h-3.0M469.5 285.49h-3.0M469.5 278.63h-5.7M469.5 271.77h-3.0M469.5 264.92h-3.0M469.5 258.06h-3.0M469.5 251.20h-5.7M469.5 244.34h-3.0M469.5 237.48h-3.0M469.5 230.62h-3.0M469.5 223.77h-5.7M469.5 216.91h-3.0M469.5 210.05h-3.0M469.5 203.19h-3.0M469.5 196.33h-5.7M469.5 189.47h-3.0M469.5 182.62h-3.0M469.5 175.76h-3.0M469.5 168.90h-5.7M469.5 162.04h-3.0M469.5 155.18h-3.0M469.5 148.32h-3.0M469.5 141.47h-5.7M469.5 134.61h-3.0M469.5 127.75h-3.0M469.5 120.89h-3.0M469.5 114.03h-5.7M469.5 107.18h-3.0M469.5 100.32h-3.0M469.5 93.46h-3.0M469.5 86.60h-5.7M469.5 79.74h-3.0M469.5 72.88h-3.0M469.5 66.02h-3.0M469.5 59.17h-5.7M469.5 52.31h-3.0M469.5 45.45h-3.0M469.5 38.59h-3.0M469.5 31.73h-5.7M469.5 24.88h-3.0M469.5 18.02h-3.0M469.5 11.16h-3.0M469.5 4.30h-5.7" stroke="#000" stroke-width="1.4" fill="none"/>
<g font-family="Liberation Serif, serif" font-size="14" fill="#000" stroke="#000" stroke-width="0.3">
<text x="59.5" y="354.0" text-anchor="middle">0</text>
<text x="100.5" y="354.0" text-anchor="middle">100</text>
<text x="141.5" y="354.0" text-anchor="middle">200</text>
<text x="182.5" y="354.0" text-anchor="middle">300</text>
<text x="223.5" y="354.0" text-anchor="middle">400</text>
<text x="264.5" y="354.0" text-anchor="middle">500</text>
<text x="305.5" y="354.0" text-anchor="middle">600</text>
<text x="346.5" y="354.0" text-anchor="middle">700</text>
<text x="387.5" y="354.0" text-anchor="middle">800</text>
<text x="428.5" y="354.0" text-anchor="middle">900</text>
<text x="469.5" y="354.0" text-anchor="middle">1000</text>
<text x="52.5" y="330.8" text-anchor="end">−14</text>
<text x="52.5" y="308.7" text-anchor="end">−12</text>
<text x="52.5" y="286.6" text-anchor="end">−10</text>
<text x="52.5" y="264.5" text-anchor="end">−8</text>
<text x="52.5" y="242.4" text-anchor="end">−6</text>
<text x="52.5" y="220.4" text-anchor="end">−4</text>
<text x="52.5" y="198.3" text-anchor="end">−2</text>
<text x="52.5" y="176.2" text-anchor="end">0</text>
<text x="52.5" y="154.1" text-anchor="end">2</text>
<text x="52.5" y="132.0" text-anchor="end">4</text>
<text x="52.5" y="110.0" text-anchor="end">6</text>
<text x="52.5" y="87.9" text-anchor="end">8</text>
<text x="52.5" y="65.8" text-anchor="end">10</text>
<text x="52.5" y="43.7" text-anchor="end">12</text>
<text x="52.5" y="21.6" text-anchor="end">14</text>
<text x="477.0" y="340.9">−60</text>
<text x="477.0" y="313.3">−50</text>
<text x="477.0" y="285.8">−40</text>
<text x="477.0" y="258.2">−30</text>
<text x="477.0" y="230.7">−20</text>
<text x="477.0" y="203.2">−10</text>
<text x="477.0" y="175.7">0</text>
<text x="477.0" y="148.1">10</text>
<text x="477.0" y="120.6">20</text>
<text x="477.0" y="93.0">30</text>
<text x="477.0" y="65.5">40</text>
<text x="477.0" y="38.0">50</text>
<text x="477.0" y="10.5">60</text>
</g>
<rect x="62.1" y="399.9" width="404.6" height="324.8" fill="none" stroke="#000" stroke-width="1.6"/>
<path d="M62.10 724.7v-5.7M62.10 399.9v5.7M72.22 724.7v-3.0M72.22 399.9v3.0M82.33 724.7v-3.0M82.33 399.9v3.0M92.44 724.7v-3.0M92.44 399.9v3.0M102.56 724.7v-5.7M102.56 399.9v5.7M112.67 724.7v-3.0M112.67 399.9v3.0M122.79 724.7v-3.0M122.79 399.9v3.0M132.91 724.7v-3.0M132.91 399.9v3.0M143.02 724.7v-5.7M143.02 399.9v5.7M153.13 724.7v-3.0M153.13 399.9v3.0M163.25 724.7v-3.0M163.25 399.9v3.0M173.36 724.7v-3.0M173.36 399.9v3.0M183.48 724.7v-5.7M183.48 399.9v5.7M193.59 724.7v-3.0M193.59 399.9v3.0M203.71 724.7v-3.0M203.71 399.9v3.0M213.82 724.7v-3.0M213.82 399.9v3.0M223.94 724.7v-5.7M223.94 399.9v5.7M234.06 724.7v-3.0M234.06 399.9v3.0M244.17 724.7v-3.0M244.17 399.9v3.0M254.28 724.7v-3.0M254.28 399.9v3.0M264.40 724.7v-5.7M264.40 399.9v5.7M274.51 724.7v-3.0M274.51 399.9v3.0M284.63 724.7v-3.0M284.63 399.9v3.0M294.75 724.7v-3.0M294.75 399.9v3.0M304.86 724.7v-5.7M304.86 399.9v5.7M314.97 724.7v-3.0M314.97 399.9v3.0M325.09 724.7v-3.0M325.09 399.9v3.0M335.21 724.7v-3.0M335.21 399.9v3.0M345.32 724.7v-5.7M345.32 399.9v5.7M355.44 724.7v-3.0M355.44 399.9v3.0M365.55 724.7v-3.0M365.55 399.9v3.0M375.67 724.7v-3.0M375.67 399.9v3.0M385.78 724.7v-5.7M385.78 399.9v5.7M395.90 724.7v-3.0M395.90 399.9v3.0M406.01 724.7v-3.0M406.01 399.9v3.0M416.12 724.7v-3.0M416.12 399.9v3.0M426.24 724.7v-5.7M426.24 399.9v5.7M436.35 724.7v-3.0M436.35 399.9v3.0M446.47 724.7v-3.0M446.47 399.9v3.0M456.58 724.7v-3.0M456.58 399.9v3.0M466.70 724.7v-5.7M466.70 399.9v5.7M62.1 724.70h5.7M62.1 716.58h3.0M62.1 708.46h3.0M62.1 700.34h3.0M62.1 692.22h5.7M62.1 684.10h3.0M62.1 675.98h3.0M62.1 667.86h3.0M62.1 659.74h5.7M62.1 651.62h3.0M62.1 643.50h3.0M62.1 635.38h3.0M62.1 627.26h5.7M62.1 619.14h3.0M62.1 611.02h3.0M62.1 602.90h3.0M62.1 594.78h5.7M62.1 586.66h3.0M62.1 578.54h3.0M62.1 570.42h3.0M62.1 562.30h5.7M62.1 554.18h3.0M62.1 546.06h3.0M62.1 537.94h3.0M62.1 529.82h5.7M62.1 521.70h3.0M62.1 513.58h3.0M62.1 505.46h3.0M62.1 497.34h5.7M62.1 489.22h3.0M62.1 481.10h3.0M62.1 472.98h3.0M62.1 464.86h5.7M62.1 456.74h3.0M62.1 448.62h3.0M62.1 440.50h3.0M62.1 432.38h5.7M62.1 424.26h3.0M62.1 416.14h3.0M62.1 408.02h3.0M62.1 399.90h5.7M466.7 724.70h-5.7M466.7 716.58h-3.0M466.7 708.46h-3.0M466.7 700.34h-3.0M466.7 692.22h-5.7M466.7 684.10h-3.0M466.7 675.98h-3.0M466.7 667.86h-3.0M466.7 659.74h-5.7M466.7 651.62h-3.0M466.7 643.50h-3.0M466.7 635.38h-3.0M466.7 627.26h-5.7M466.7 619.14h-3.0M466.7 611.02h-3.0M466.7 602.90h-3.0M466.7 594.78h-5.7M466.7 586.66h-3.0M466.7 578.54h-3.0M466.7 570.42h-3.0M466.7 562.30h-5.7M466.7 554.18h-3.0M466.7 546.06h-3.0M466.7 537.94h-3.0M466.7 529.82h-5.7M466.7 521.70h-3.0M466.7 513.58h-3.0M466.7 505.46h-3.0M466.7 497.34h-5.7M466.7 489.22h-3.0M466.7 481.10h-3.0M466.7 472.98h-3.0M466.7 464.86h-5.7M466.7 456.74h-3.0M466.7 448.62h-3.0M466.7 440.50h-3.0M466.7 432.38h-5.7M466.7 424.26h-3.0M466.7 416.14h-3.0M466.7 408.02h-3.0M466.7 399.90h-5.7" stroke="#000" stroke-width="1.4" fill="none"/>
<g font-family="Liberation Serif, serif" font-size="14" fill="#000" stroke="#000" stroke-width="0.3">
<text x="62.1" y="745.2" text-anchor="middle">0</text>
<text x="102.6" y="745.2" text-anchor="middle">100</text>
<text x="143.0" y="745.2" text-anchor="middle">200</text>
<text x="183.5" y="745.2" text-anchor="middle">300</text>
<text x="223.9" y="745.2" text-anchor="middle">400</text>
<text x="264.4" y="745.2" text-anchor="middle">500</text>
<text x="304.9" y="745.2" text-anchor="middle">600</text>
<text x="345.3" y="745.2" text-anchor="middle">700</text>
<text x="385.8" y="745.2" text-anchor="middle">800</text>
<text x="426.2" y="745.2" text-anchor="middle">900</text>
<text x="466.7" y="745.2" text-anchor="middle">1000</text>
<text x="54.1" y="731.0" text-anchor="end">-10</text>
<text x="54.1" y="698.5" text-anchor="end">-8</text>
<text x="54.1" y="666.0" text-anchor="end">-6</text>
<text x="54.1" y="633.6" text-anchor="end">-4</text>
<text x="54.1" y="601.1" text-anchor="end">-2</text>
<text x="54.1" y="568.6" text-anchor="end">0</text>
<text x="54.1" y="536.1" text-anchor="end">2</text>
<text x="54.1" y="503.6" text-anchor="end">4</text>
<text x="54.1" y="471.2" text-anchor="end">6</text>
<text x="54.1" y="438.7" text-anchor="end">8</text>
<text x="54.1" y="406.2" text-anchor="end">10</text>
<text x="474.2" y="731.5">-0. 5</text>
<text x="474.2" y="699.0">-0. 4</text>
<text x="474.2" y="666.5">-0. 3</text>
<text x="474.2" y="634.1">-0. 2</text>
<text x="474.2" y="601.6">-0. 1</text>
<text x="474.2" y="569.1">0. 0</text>
<text x="474.2" y="536.6">0. 1</text>
<text x="474.2" y="504.1">0. 2</text>
<text x="474.2" y="471.7">0. 3</text>
<text x="474.2" y="439.2">0. 4</text>
<text x="474.2" y="406.7">0. 5</text>
</g>
<rect x="59.1" y="798.0" width="406.3" height="326.6" fill="none" stroke="#000" stroke-width="1.6"/>
<path d="M59.10 1124.6v-5.7M59.10 798.0v5.7M71.80 1124.6v-3.0M71.80 798.0v3.0M84.49 1124.6v-3.0M84.49 798.0v3.0M97.19 1124.6v-3.0M97.19 798.0v3.0M109.89 1124.6v-5.7M109.89 798.0v5.7M122.58 1124.6v-3.0M122.58 798.0v3.0M135.28 1124.6v-3.0M135.28 798.0v3.0M147.98 1124.6v-3.0M147.98 798.0v3.0M160.67 1124.6v-5.7M160.67 798.0v5.7M173.37 1124.6v-3.0M173.37 798.0v3.0M186.07 1124.6v-3.0M186.07 798.0v3.0M198.77 1124.6v-3.0M198.77 798.0v3.0M211.46 1124.6v-5.7M211.46 798.0v5.7M224.16 1124.6v-3.0M224.16 798.0v3.0M236.86 1124.6v-3.0M236.86 798.0v3.0M249.55 1124.6v-3.0M249.55 798.0v3.0M262.25 1124.6v-5.7M262.25 798.0v5.7M274.95 1124.6v-3.0M274.95 798.0v3.0M287.64 1124.6v-3.0M287.64 798.0v3.0M300.34 1124.6v-3.0M300.34 798.0v3.0M313.04 1124.6v-5.7M313.04 798.0v5.7M325.73 1124.6v-3.0M325.73 798.0v3.0M338.43 1124.6v-3.0M338.43 798.0v3.0M351.13 1124.6v-3.0M351.13 798.0v3.0M363.82 1124.6v-5.7M363.82 798.0v5.7M376.52 1124.6v-3.0M376.52 798.0v3.0M389.22 1124.6v-3.0M389.22 798.0v3.0M401.92 1124.6v-3.0M401.92 798.0v3.0M414.61 1124.6v-5.7M414.61 798.0v5.7M427.31 1124.6v-3.0M427.31 798.0v3.0M440.01 1124.6v-3.0M440.01 798.0v3.0M452.70 1124.6v-3.0M452.70 798.0v3.0M465.40 1124.6v-5.7M465.40 798.0v5.7M59.1 1124.60h5.7M59.1 1116.43h3.0M59.1 1108.27h3.0M59.1 1100.11h3.0M59.1 1091.94h5.7M59.1 1083.77h3.0M59.1 1075.61h3.0M59.1 1067.44h3.0M59.1 1059.28h5.7M59.1 1051.12h3.0M59.1 1042.95h3.0M59.1 1034.78h3.0M59.1 1026.62h5.7M59.1 1018.45h3.0M59.1 1010.29h3.0M59.1 1002.12h3.0M59.1 993.96h5.7M59.1 985.79h3.0M59.1 977.63h3.0M59.1 969.46h3.0M59.1 961.30h5.7M59.1 953.13h3.0M59.1 944.97h3.0M59.1 936.80h3.0M59.1 928.64h5.7M59.1 920.47h3.0M59.1 912.31h3.0M59.1 904.14h3.0M59.1 895.98h5.7M59.1 887.81h3.0M59.1 879.65h3.0M59.1 871.49h3.0M59.1 863.32h5.7M59.1 855.15h3.0M59.1 846.99h3.0M59.1 838.83h3.0M59.1 830.66h5.7M59.1 822.50h3.0M59.1 814.33h3.0M59.1 806.16h3.0M59.1 798.00h5.7M465.4 1124.60h-5.7M465.4 1114.39h-3.0M465.4 1104.19h-3.0M465.4 1093.98h-3.0M465.4 1083.77h-5.7M465.4 1073.57h-3.0M465.4 1063.36h-3.0M465.4 1053.16h-3.0M465.4 1042.95h-5.7M465.4 1032.74h-3.0M465.4 1022.54h-3.0M465.4 1012.33h-3.0M465.4 1002.12h-5.7M465.4 991.92h-3.0M465.4 981.71h-3.0M465.4 971.51h-3.0M465.4 961.30h-5.7M465.4 951.09h-3.0M465.4 940.89h-3.0M465.4 930.68h-3.0M465.4 920.47h-5.7M465.4 910.27h-3.0M465.4 900.06h-3.0M465.4 889.86h-3.0M465.4 879.65h-5.7M465.4 869.44h-3.0M465.4 859.24h-3.0M465.4 849.03h-3.0M465.4 838.83h-5.7M465.4 828.62h-3.0M465.4 818.41h-3.0M465.4 808.21h-3.0M465.4 798.00h-5.7" stroke="#000" stroke-width="1.4" fill="none"/>
<g font-family="Liberation Serif, serif" font-size="14" fill="#000" stroke="#000" stroke-width="0.3">
<text x="59.1" y="1145.1" text-anchor="middle">0</text>
<text x="109.9" y="1145.1" text-anchor="middle">100</text>
<text x="160.7" y="1145.1" text-anchor="middle">200</text>
<text x="211.5" y="1145.1" text-anchor="middle">300</text>
<text x="262.2" y="1145.1" text-anchor="middle">400</text>
<text x="313.0" y="1145.1" text-anchor="middle">500</text>
<text x="363.8" y="1145.1" text-anchor="middle">600</text>
<text x="414.6" y="1145.1" text-anchor="middle">700</text>
<text x="465.4" y="1145.1" text-anchor="middle">800</text>
<text x="52.3" y="1131.6" text-anchor="end">-10</text>
<text x="52.3" y="1098.7" text-anchor="end">-8</text>
<text x="52.3" y="1065.9" text-anchor="end">-6</text>
<text x="52.3" y="1033.0" text-anchor="end">-4</text>
<text x="52.3" y="1000.2" text-anchor="end">-2</text>
<text x="52.3" y="967.3" text-anchor="end">0</text>
<text x="52.3" y="934.5" text-anchor="end">2</text>
<text x="52.3" y="901.6" text-anchor="end">4</text>
<text x="52.3" y="868.8" text-anchor="end">6</text>
<text x="52.3" y="835.9" text-anchor="end">8</text>
<text x="52.3" y="803.1" text-anchor="end">10</text>
<text x="472.9" y="1130.9">-0.4</text>
<text x="472.9" y="1090.0">-0.3</text>
<text x="472.9" y="1049.1">-0.2</text>
<text x="472.9" y="1008.2">-0.1</text>
<text x="472.9" y="967.3">0.0</text>
<text x="472.9" y="926.5">0.1</text>
<text x="472.9" y="885.6">0.2</text>
<text x="472.9" y="844.7">0.3</text>
<text x="472.9" y="803.8">0.4</text>
</g>
<g font-family="Liberation Serif, serif" font-size="17" fill="#000" stroke="#000" stroke-width="0.4">
<text x="265.0" y="379.3" text-anchor="middle">Time (µs)</text>
<text x="264.3" y="769.5" text-anchor="middle">Time (µs)</text>
<text x="254.7" y="1172.0" text-anchor="middle">Time (µs)</text>
<text transform="translate(12.6,161.7) rotate(-90)" text-anchor="middle" font-size="17.5">Applied voltage (kV)</text>
<text transform="translate(14.4,555.3) rotate(-90)" text-anchor="middle" font-size="17">Applied voltage (kV)</text>
<text transform="translate(14.4,954.0) rotate(-90)" text-anchor="middle" font-size="17">Applied voltage (kV)</text>
<text transform="translate(518.5,167.4) rotate(-90)" text-anchor="middle">Applied current (A)</text>
<text transform="translate(520.2,561.2) rotate(-90)" text-anchor="middle">Applied current (A)</text>
<text transform="translate(515.2,960.4) rotate(-90)" text-anchor="middle">Applied current (A)</text>
<text x="321" y="30.5">Applied voltage</text><text x="321" y="50.9">Applied current</text>
<text x="322.6" y="435.2">Applied voltage</text><text x="322.6" y="455.7">Applied current</text>
<text x="295.6" y="844.7">Applied voltage</text><text x="295.6" y="865.2">Applied current</text>
</g>
<g font-family="Liberation Serif, serif" font-size="20" font-weight="bold" fill="#000"><text x="88.7" y="31.1">(a)</text><text x="91.6" y="431.6">(b)</text><text x="84.5" y="832.4">(c)</text></g>
<path d="M277.1 25.2H315.9M278.8 429.3H318.2" stroke="#dc1515" stroke-width="2.0"/>
<path d="M252.7 839.3H291.3" stroke="#dc1515" stroke-width="1.7"/>
<path d="M277.1 46.1H315.9" stroke="#3a3ad0" stroke-width="1.3"/>
<path d="M278.8 450.2H318.2" stroke="#0808b8" stroke-width="2.0"/>
<path d="M252.7 860.4H291.3" stroke="#0808b8" stroke-width="1.7"/>
</svg>
</body></html>
